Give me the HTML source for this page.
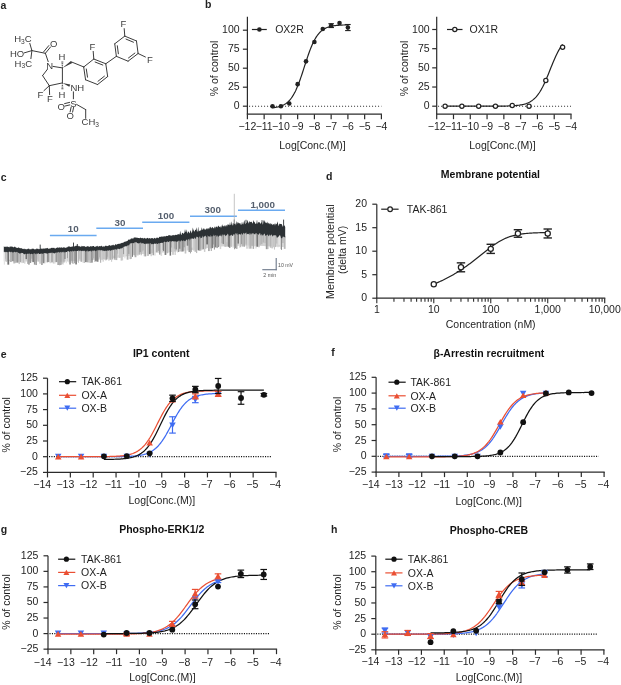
<!DOCTYPE html>
<html><head><meta charset="utf-8"><style>html,body{margin:0;padding:0;background:#fff;}svg{display:block;}</style></head><body>
<svg width="621" height="685" viewBox="0 0 621 685" font-family="&apos;Liberation Sans&apos;, Arial, Helvetica, sans-serif">
<rect width="621" height="685" fill="#fff"/>
<text x="0.6" y="8.6" font-size="10.5" text-anchor="start" font-weight="bold" fill="#222" >a</text>
<text x="205" y="8.4" font-size="10.5" text-anchor="start" font-weight="bold" fill="#222" >b</text>
<text x="0.8" y="180.6" font-size="10.5" text-anchor="start" font-weight="bold" fill="#222" >c</text>
<text x="326" y="180.4" font-size="10.5" text-anchor="start" font-weight="bold" fill="#222" >d</text>
<text x="0.8" y="357.8" font-size="10.5" text-anchor="start" font-weight="bold" fill="#222" >e</text>
<text x="331.2" y="355.6" font-size="10.5" text-anchor="start" font-weight="bold" fill="#222" >f</text>
<text x="0.8" y="532.6" font-size="10.5" text-anchor="start" font-weight="bold" fill="#222" >g</text>
<text x="331" y="533" font-size="10.5" text-anchor="start" font-weight="bold" fill="#222" >h</text>
<line x1="249" y1="106.2" x2="381.4" y2="106.2" stroke="#3a3a3a" stroke-width="1.1" stroke-dasharray="1.1 1.9"/>
<line x1="247.4" y1="16.82" x2="247.4" y2="114.18" stroke="#2b2b2b" stroke-width="1.2" />
<line x1="242.9" y1="106.2" x2="247.4" y2="106.2" stroke="#2b2b2b" stroke-width="1.2" />
<text x="239.6" y="109.2" font-size="10.5" text-anchor="end" font-weight="normal" fill="#1e1e1e" >0</text>
<line x1="242.9" y1="87.2" x2="247.4" y2="87.2" stroke="#2b2b2b" stroke-width="1.2" />
<text x="239.6" y="90.2" font-size="10.5" text-anchor="end" font-weight="normal" fill="#1e1e1e" >25</text>
<line x1="242.9" y1="68.2" x2="247.4" y2="68.2" stroke="#2b2b2b" stroke-width="1.2" />
<text x="239.6" y="71.2" font-size="10.5" text-anchor="end" font-weight="normal" fill="#1e1e1e" >50</text>
<line x1="242.9" y1="49.2" x2="247.4" y2="49.2" stroke="#2b2b2b" stroke-width="1.2" />
<text x="239.6" y="52.2" font-size="10.5" text-anchor="end" font-weight="normal" fill="#1e1e1e" >75</text>
<line x1="242.9" y1="30.2" x2="247.4" y2="30.2" stroke="#2b2b2b" stroke-width="1.2" />
<text x="239.6" y="33.2" font-size="10.5" text-anchor="end" font-weight="normal" fill="#1e1e1e" >100</text>
<line x1="246.8" y1="114.18" x2="382" y2="114.18" stroke="#2b2b2b" stroke-width="1.2" />
<line x1="247.4" y1="114.18" x2="247.4" y2="119.18" stroke="#2b2b2b" stroke-width="1.2" />
<text x="247.4" y="130.3" font-size="10.5" text-anchor="middle" font-weight="normal" fill="#1e1e1e" >−12</text>
<line x1="264.15" y1="114.18" x2="264.15" y2="119.18" stroke="#2b2b2b" stroke-width="1.2" />
<text x="264.15" y="130.3" font-size="10.5" text-anchor="middle" font-weight="normal" fill="#1e1e1e" >−11</text>
<line x1="280.9" y1="114.18" x2="280.9" y2="119.18" stroke="#2b2b2b" stroke-width="1.2" />
<text x="280.9" y="130.3" font-size="10.5" text-anchor="middle" font-weight="normal" fill="#1e1e1e" >−10</text>
<line x1="297.65" y1="114.18" x2="297.65" y2="119.18" stroke="#2b2b2b" stroke-width="1.2" />
<text x="297.65" y="130.3" font-size="10.5" text-anchor="middle" font-weight="normal" fill="#1e1e1e" >−9</text>
<line x1="314.4" y1="114.18" x2="314.4" y2="119.18" stroke="#2b2b2b" stroke-width="1.2" />
<text x="314.4" y="130.3" font-size="10.5" text-anchor="middle" font-weight="normal" fill="#1e1e1e" >−8</text>
<line x1="331.15" y1="114.18" x2="331.15" y2="119.18" stroke="#2b2b2b" stroke-width="1.2" />
<text x="331.15" y="130.3" font-size="10.5" text-anchor="middle" font-weight="normal" fill="#1e1e1e" >−7</text>
<line x1="347.9" y1="114.18" x2="347.9" y2="119.18" stroke="#2b2b2b" stroke-width="1.2" />
<text x="347.9" y="130.3" font-size="10.5" text-anchor="middle" font-weight="normal" fill="#1e1e1e" >−6</text>
<line x1="364.65" y1="114.18" x2="364.65" y2="119.18" stroke="#2b2b2b" stroke-width="1.2" />
<text x="364.65" y="130.3" font-size="10.5" text-anchor="middle" font-weight="normal" fill="#1e1e1e" >−5</text>
<line x1="381.4" y1="114.18" x2="381.4" y2="119.18" stroke="#2b2b2b" stroke-width="1.2" />
<text x="381.4" y="130.3" font-size="10.5" text-anchor="middle" font-weight="normal" fill="#1e1e1e" >−4</text>
<text x="0" y="0" font-size="10.5" text-anchor="middle" fill="#1e1e1e" transform="translate(218.2,68.5) rotate(-90)">% of control</text>
<text x="312.5" y="149" font-size="10.5" text-anchor="middle" font-weight="normal" fill="#1e1e1e" >Log[Conc.(M)]</text>
<polyline points="272.52,107.8 273.15,107.73 273.78,107.65 274.41,107.57 275.04,107.48 275.67,107.37 276.29,107.26 276.92,107.14 277.55,107.01 278.18,106.87 278.81,106.71 279.43,106.53 280.06,106.34 280.69,106.14 281.32,105.91 281.95,105.66 282.57,105.39 283.2,105.1 283.83,104.78 284.46,104.43 285.09,104.05 285.72,103.64 286.34,103.19 286.97,102.7 287.6,102.18 288.23,101.61 288.86,100.99 289.48,100.32 290.11,99.61 290.74,98.83 291.37,98 292,97.11 292.62,96.16 293.25,95.14 293.88,94.06 294.51,92.91 295.14,91.69 295.77,90.39 296.39,89.03 297.02,87.6 297.65,86.1 298.28,84.53 298.91,82.9 299.53,81.21 300.16,79.46 300.79,77.67 301.42,75.82 302.05,73.94 302.68,72.03 303.3,70.1 303.93,68.15 304.56,66.19 305.19,64.24 305.82,62.3 306.44,60.37 307.07,58.47 307.7,56.61 308.33,54.79 308.96,53.01 309.58,51.29 310.21,49.62 310.84,48.02 311.47,46.48 312.1,45.01 312.73,43.61 313.35,42.28 313.98,41.02 314.61,39.83 315.24,38.71 315.87,37.66 316.49,36.67 317.12,35.75 317.75,34.89 318.38,34.08 319.01,33.34 319.63,32.64 320.26,32 320.89,31.4 321.52,30.85 322.15,30.35 322.77,29.88 323.4,29.45 324.03,29.05 324.66,28.68 325.29,28.35 325.92,28.04 326.54,27.76 327.17,27.5 327.8,27.26 328.43,27.04 329.06,26.84 329.68,26.66 330.31,26.49 330.94,26.34 331.57,26.2 332.2,26.07 332.82,25.96 333.45,25.85 334.08,25.75 334.71,25.67 335.34,25.59 335.97,25.51 336.59,25.44 337.22,25.38 337.85,25.33 338.48,25.28 339.11,25.23 339.73,25.19 340.36,25.15 340.99,25.11 341.62,25.08 342.25,25.05 342.88,25.02 343.5,25 344.13,24.98 344.76,24.96 345.39,24.94 346.02,24.92 346.64,24.91 347.27,24.89 347.9,24.88" fill="none" stroke="#222" stroke-width="1.2" stroke-linejoin="round"/>
<line x1="331.15" y1="23.74" x2="331.15" y2="27.54" stroke="#222" stroke-width="1.1" />
<line x1="328.35" y1="23.74" x2="333.95" y2="23.74" stroke="#222" stroke-width="1.1" />
<line x1="328.35" y1="27.54" x2="333.95" y2="27.54" stroke="#222" stroke-width="1.1" />
<line x1="347.9" y1="24.5" x2="347.9" y2="30.58" stroke="#222" stroke-width="1.1" />
<line x1="345.1" y1="24.5" x2="350.7" y2="24.5" stroke="#222" stroke-width="1.1" />
<line x1="345.1" y1="30.58" x2="350.7" y2="30.58" stroke="#222" stroke-width="1.1" />
<circle cx="272.52" cy="106.2" r="2.3" fill="#222"/>
<circle cx="280.9" cy="106.2" r="2.3" fill="#222"/>
<circle cx="289.27" cy="103.54" r="2.3" fill="#222"/>
<circle cx="297.65" cy="84.16" r="2.3" fill="#222"/>
<circle cx="306.02" cy="61.36" r="2.3" fill="#222"/>
<circle cx="314.4" cy="41.98" r="2.3" fill="#222"/>
<circle cx="322.77" cy="28.98" r="2.3" fill="#222"/>
<circle cx="331.15" cy="25.64" r="2.3" fill="#222"/>
<circle cx="339.52" cy="22.98" r="2.3" fill="#222"/>
<circle cx="347.9" cy="27.54" r="2.3" fill="#222"/>
<line x1="251.9" y1="29.5" x2="266.8" y2="29.5" stroke="#222" stroke-width="1.2" />
<circle cx="259.4" cy="29.5" r="2.3" fill="#222"/>
<text x="275.2" y="33.1" font-size="10.5" text-anchor="start" font-weight="normal" fill="#1e1e1e" >OX2R</text>
<line x1="438" y1="106.2" x2="571" y2="106.2" stroke="#3a3a3a" stroke-width="1.1" stroke-dasharray="1.1 1.9"/>
<line x1="436.7" y1="16.77" x2="436.7" y2="114.18" stroke="#2b2b2b" stroke-width="1.2" />
<line x1="432.2" y1="106.2" x2="436.7" y2="106.2" stroke="#2b2b2b" stroke-width="1.2" />
<text x="429.6" y="109.2" font-size="10.5" text-anchor="end" font-weight="normal" fill="#1e1e1e" >0</text>
<line x1="432.2" y1="87.03" x2="436.7" y2="87.03" stroke="#2b2b2b" stroke-width="1.2" />
<text x="429.6" y="90.03" font-size="10.5" text-anchor="end" font-weight="normal" fill="#1e1e1e" >25</text>
<line x1="432.2" y1="67.85" x2="436.7" y2="67.85" stroke="#2b2b2b" stroke-width="1.2" />
<text x="429.6" y="70.85" font-size="10.5" text-anchor="end" font-weight="normal" fill="#1e1e1e" >50</text>
<line x1="432.2" y1="48.68" x2="436.7" y2="48.68" stroke="#2b2b2b" stroke-width="1.2" />
<text x="429.6" y="51.68" font-size="10.5" text-anchor="end" font-weight="normal" fill="#1e1e1e" >75</text>
<line x1="432.2" y1="29.5" x2="436.7" y2="29.5" stroke="#2b2b2b" stroke-width="1.2" />
<text x="429.6" y="32.5" font-size="10.5" text-anchor="end" font-weight="normal" fill="#1e1e1e" >100</text>
<line x1="436.1" y1="114.18" x2="571.6" y2="114.18" stroke="#2b2b2b" stroke-width="1.2" />
<line x1="436.7" y1="114.18" x2="436.7" y2="119.18" stroke="#2b2b2b" stroke-width="1.2" />
<text x="436.7" y="130.3" font-size="10.5" text-anchor="middle" font-weight="normal" fill="#1e1e1e" >−12</text>
<line x1="453.49" y1="114.18" x2="453.49" y2="119.18" stroke="#2b2b2b" stroke-width="1.2" />
<text x="453.49" y="130.3" font-size="10.5" text-anchor="middle" font-weight="normal" fill="#1e1e1e" >−11</text>
<line x1="470.27" y1="114.18" x2="470.27" y2="119.18" stroke="#2b2b2b" stroke-width="1.2" />
<text x="470.27" y="130.3" font-size="10.5" text-anchor="middle" font-weight="normal" fill="#1e1e1e" >−10</text>
<line x1="487.06" y1="114.18" x2="487.06" y2="119.18" stroke="#2b2b2b" stroke-width="1.2" />
<text x="487.06" y="130.3" font-size="10.5" text-anchor="middle" font-weight="normal" fill="#1e1e1e" >−9</text>
<line x1="503.85" y1="114.18" x2="503.85" y2="119.18" stroke="#2b2b2b" stroke-width="1.2" />
<text x="503.85" y="130.3" font-size="10.5" text-anchor="middle" font-weight="normal" fill="#1e1e1e" >−8</text>
<line x1="520.64" y1="114.18" x2="520.64" y2="119.18" stroke="#2b2b2b" stroke-width="1.2" />
<text x="520.64" y="130.3" font-size="10.5" text-anchor="middle" font-weight="normal" fill="#1e1e1e" >−7</text>
<line x1="537.42" y1="114.18" x2="537.42" y2="119.18" stroke="#2b2b2b" stroke-width="1.2" />
<text x="537.42" y="130.3" font-size="10.5" text-anchor="middle" font-weight="normal" fill="#1e1e1e" >−6</text>
<line x1="554.21" y1="114.18" x2="554.21" y2="119.18" stroke="#2b2b2b" stroke-width="1.2" />
<text x="554.21" y="130.3" font-size="10.5" text-anchor="middle" font-weight="normal" fill="#1e1e1e" >−5</text>
<line x1="571" y1="114.18" x2="571" y2="119.18" stroke="#2b2b2b" stroke-width="1.2" />
<text x="571" y="130.3" font-size="10.5" text-anchor="middle" font-weight="normal" fill="#1e1e1e" >−4</text>
<text x="0" y="0" font-size="10.5" text-anchor="middle" fill="#1e1e1e" transform="translate(408.2,68.5) rotate(-90)">% of control</text>
<text x="502.5" y="149.3" font-size="10.5" text-anchor="middle" font-weight="normal" fill="#1e1e1e" >Log[Conc.(M)]</text>
<polyline points="445.09,106.2 446.07,106.2 447.05,106.2 448.03,106.2 449.01,106.2 449.99,106.2 450.97,106.2 451.95,106.2 452.93,106.2 453.91,106.2 454.89,106.2 455.87,106.2 456.84,106.2 457.82,106.2 458.8,106.2 459.78,106.2 460.76,106.2 461.74,106.2 462.72,106.2 463.7,106.2 464.68,106.2 465.66,106.2 466.64,106.2 467.62,106.2 468.6,106.2 469.58,106.2 470.55,106.2 471.53,106.2 472.51,106.2 473.49,106.2 474.47,106.2 475.45,106.2 476.43,106.2 477.41,106.2 478.39,106.2 479.37,106.2 480.35,106.19 481.33,106.19 482.31,106.19 483.29,106.19 484.26,106.19 485.24,106.19 486.22,106.19 487.2,106.19 488.18,106.19 489.16,106.18 490.14,106.18 491.12,106.18 492.1,106.17 493.08,106.17 494.06,106.17 495.04,106.16 496.02,106.16 497,106.15 497.97,106.14 498.95,106.13 499.93,106.13 500.91,106.11 501.89,106.1 502.87,106.09 503.85,106.07 504.83,106.05 505.81,106.03 506.79,106.01 507.77,105.98 508.75,105.95 509.73,105.91 510.7,105.87 511.68,105.83 512.66,105.77 513.64,105.71 514.62,105.64 515.6,105.56 516.58,105.47 517.56,105.37 518.54,105.25 519.52,105.12 520.5,104.96 521.48,104.79 522.46,104.59 523.44,104.37 524.41,104.11 525.39,103.82 526.37,103.49 527.35,103.12 528.33,102.7 529.31,102.22 530.29,101.68 531.27,101.08 532.25,100.4 533.23,99.64 534.21,98.8 535.19,97.86 536.17,96.81 537.15,95.66 538.12,94.38 539.1,92.99 540.08,91.48 541.06,89.84 542.04,88.07 543.02,86.18 544,84.17 544.98,82.05 545.96,79.83 546.94,77.53 547.92,75.16 548.9,72.74 549.88,70.29 550.86,67.84 551.83,65.41 552.81,63.01 553.79,60.68 554.77,58.41 555.75,56.24 556.73,54.18 557.71,52.23 558.69,50.4 559.67,48.69 560.65,47.12 561.63,45.67 562.61,44.34" fill="none" stroke="#222" stroke-width="1.2" stroke-linejoin="round"/>
<circle cx="445.09" cy="106.2" r="2.1" fill="#fff" stroke="#222" stroke-width="1.25"/>
<circle cx="461.88" cy="106.2" r="2.1" fill="#fff" stroke="#222" stroke-width="1.25"/>
<circle cx="478.67" cy="106.2" r="2.1" fill="#fff" stroke="#222" stroke-width="1.25"/>
<circle cx="495.46" cy="106.2" r="2.1" fill="#fff" stroke="#222" stroke-width="1.25"/>
<circle cx="512.24" cy="105.43" r="2.1" fill="#fff" stroke="#222" stroke-width="1.25"/>
<circle cx="529.03" cy="106.2" r="2.1" fill="#fff" stroke="#222" stroke-width="1.25"/>
<circle cx="545.82" cy="80.43" r="2.1" fill="#fff" stroke="#222" stroke-width="1.25"/>
<circle cx="562.61" cy="47.29" r="2.1" fill="#fff" stroke="#222" stroke-width="1.25"/>
<line x1="447" y1="29.5" x2="462.5" y2="29.5" stroke="#222" stroke-width="1.2" />
<circle cx="454.8" cy="29.5" r="2.1" fill="#fff" stroke="#222" stroke-width="1.25"/>
<text x="469.5" y="33.1" font-size="10.5" text-anchor="start" font-weight="normal" fill="#1e1e1e" >OX1R</text>
<line x1="376.8" y1="204.2" x2="376.8" y2="298.2" stroke="#2b2b2b" stroke-width="1.2" />
<line x1="372.3" y1="298.2" x2="376.8" y2="298.2" stroke="#2b2b2b" stroke-width="1.2" />
<text x="367" y="301.2" font-size="10.5" text-anchor="end" font-weight="normal" fill="#1e1e1e" >0</text>
<line x1="372.3" y1="274.7" x2="376.8" y2="274.7" stroke="#2b2b2b" stroke-width="1.2" />
<text x="367" y="277.7" font-size="10.5" text-anchor="end" font-weight="normal" fill="#1e1e1e" >5</text>
<line x1="372.3" y1="251.2" x2="376.8" y2="251.2" stroke="#2b2b2b" stroke-width="1.2" />
<text x="367" y="254.2" font-size="10.5" text-anchor="end" font-weight="normal" fill="#1e1e1e" >10</text>
<line x1="372.3" y1="227.7" x2="376.8" y2="227.7" stroke="#2b2b2b" stroke-width="1.2" />
<text x="367" y="230.7" font-size="10.5" text-anchor="end" font-weight="normal" fill="#1e1e1e" >15</text>
<line x1="372.3" y1="204.2" x2="376.8" y2="204.2" stroke="#2b2b2b" stroke-width="1.2" />
<text x="367" y="207.2" font-size="10.5" text-anchor="end" font-weight="normal" fill="#1e1e1e" >20</text>
<line x1="376.2" y1="298.2" x2="605.3" y2="298.2" stroke="#2b2b2b" stroke-width="1.2" />
<line x1="376.8" y1="298.2" x2="376.8" y2="303.2" stroke="#2b2b2b" stroke-width="1.1" />
<line x1="393.95" y1="298.2" x2="393.95" y2="301.8" stroke="#2b2b2b" stroke-width="1.1" />
<line x1="403.98" y1="298.2" x2="403.98" y2="301.8" stroke="#2b2b2b" stroke-width="1.1" />
<line x1="411.1" y1="298.2" x2="411.1" y2="301.8" stroke="#2b2b2b" stroke-width="1.1" />
<line x1="416.62" y1="298.2" x2="416.62" y2="301.8" stroke="#2b2b2b" stroke-width="1.1" />
<line x1="421.14" y1="298.2" x2="421.14" y2="301.8" stroke="#2b2b2b" stroke-width="1.1" />
<line x1="424.95" y1="298.2" x2="424.95" y2="301.8" stroke="#2b2b2b" stroke-width="1.1" />
<line x1="428.25" y1="298.2" x2="428.25" y2="301.8" stroke="#2b2b2b" stroke-width="1.1" />
<line x1="431.17" y1="298.2" x2="431.17" y2="301.8" stroke="#2b2b2b" stroke-width="1.1" />
<line x1="433.78" y1="298.2" x2="433.78" y2="303.2" stroke="#2b2b2b" stroke-width="1.1" />
<line x1="450.93" y1="298.2" x2="450.93" y2="301.8" stroke="#2b2b2b" stroke-width="1.1" />
<line x1="460.96" y1="298.2" x2="460.96" y2="301.8" stroke="#2b2b2b" stroke-width="1.1" />
<line x1="468.08" y1="298.2" x2="468.08" y2="301.8" stroke="#2b2b2b" stroke-width="1.1" />
<line x1="473.6" y1="298.2" x2="473.6" y2="301.8" stroke="#2b2b2b" stroke-width="1.1" />
<line x1="478.11" y1="298.2" x2="478.11" y2="301.8" stroke="#2b2b2b" stroke-width="1.1" />
<line x1="481.92" y1="298.2" x2="481.92" y2="301.8" stroke="#2b2b2b" stroke-width="1.1" />
<line x1="485.23" y1="298.2" x2="485.23" y2="301.8" stroke="#2b2b2b" stroke-width="1.1" />
<line x1="488.14" y1="298.2" x2="488.14" y2="301.8" stroke="#2b2b2b" stroke-width="1.1" />
<line x1="490.75" y1="298.2" x2="490.75" y2="303.2" stroke="#2b2b2b" stroke-width="1.1" />
<line x1="507.9" y1="298.2" x2="507.9" y2="301.8" stroke="#2b2b2b" stroke-width="1.1" />
<line x1="517.93" y1="298.2" x2="517.93" y2="301.8" stroke="#2b2b2b" stroke-width="1.1" />
<line x1="525.05" y1="298.2" x2="525.05" y2="301.8" stroke="#2b2b2b" stroke-width="1.1" />
<line x1="530.57" y1="298.2" x2="530.57" y2="301.8" stroke="#2b2b2b" stroke-width="1.1" />
<line x1="535.09" y1="298.2" x2="535.09" y2="301.8" stroke="#2b2b2b" stroke-width="1.1" />
<line x1="538.9" y1="298.2" x2="538.9" y2="301.8" stroke="#2b2b2b" stroke-width="1.1" />
<line x1="542.2" y1="298.2" x2="542.2" y2="301.8" stroke="#2b2b2b" stroke-width="1.1" />
<line x1="545.12" y1="298.2" x2="545.12" y2="301.8" stroke="#2b2b2b" stroke-width="1.1" />
<line x1="547.73" y1="298.2" x2="547.73" y2="303.2" stroke="#2b2b2b" stroke-width="1.1" />
<line x1="564.88" y1="298.2" x2="564.88" y2="301.8" stroke="#2b2b2b" stroke-width="1.1" />
<line x1="574.91" y1="298.2" x2="574.91" y2="301.8" stroke="#2b2b2b" stroke-width="1.1" />
<line x1="582.03" y1="298.2" x2="582.03" y2="301.8" stroke="#2b2b2b" stroke-width="1.1" />
<line x1="587.55" y1="298.2" x2="587.55" y2="301.8" stroke="#2b2b2b" stroke-width="1.1" />
<line x1="592.06" y1="298.2" x2="592.06" y2="301.8" stroke="#2b2b2b" stroke-width="1.1" />
<line x1="595.87" y1="298.2" x2="595.87" y2="301.8" stroke="#2b2b2b" stroke-width="1.1" />
<line x1="599.18" y1="298.2" x2="599.18" y2="301.8" stroke="#2b2b2b" stroke-width="1.1" />
<line x1="602.09" y1="298.2" x2="602.09" y2="301.8" stroke="#2b2b2b" stroke-width="1.1" />
<line x1="604.7" y1="298.2" x2="604.7" y2="303.2" stroke="#2b2b2b" stroke-width="1.2" />
<text x="376.8" y="313.3" font-size="10.5" text-anchor="middle" font-weight="normal" fill="#1e1e1e" >1</text>
<text x="433.78" y="313.3" font-size="10.5" text-anchor="middle" font-weight="normal" fill="#1e1e1e" >10</text>
<text x="490.75" y="313.3" font-size="10.5" text-anchor="middle" font-weight="normal" fill="#1e1e1e" >100</text>
<text x="547.73" y="313.3" font-size="10.5" text-anchor="middle" font-weight="normal" fill="#1e1e1e" >1,000</text>
<text x="604.7" y="313.3" font-size="10.5" text-anchor="middle" font-weight="normal" fill="#1e1e1e" >10,000</text>
<text x="0" y="0" font-size="10.7" text-anchor="middle" fill="#1e1e1e" transform="translate(334,251.7) rotate(-90)">Membrane potential</text>
<text x="0" y="0" font-size="10.5" text-anchor="middle" fill="#1e1e1e" transform="translate(346.4,249.9) rotate(-90)">(delta mV)</text>
<text x="490.4" y="177.6" font-size="10.5" text-anchor="middle" font-weight="bold" fill="#111" >Membrane potential</text>
<text x="490.7" y="328.2" font-size="10.5" text-anchor="middle" font-weight="normal" fill="#1e1e1e" >Concentration (nM)</text>
<polyline points="433.78,284.19 434.72,283.8 435.67,283.4 436.62,283 437.57,282.59 438.52,282.17 439.47,281.74 440.42,281.31 441.37,280.87 442.32,280.42 443.27,279.97 444.22,279.5 445.17,279.03 446.12,278.55 447.07,278.06 448.02,277.56 448.97,277.06 449.92,276.55 450.87,276.02 451.82,275.49 452.77,274.95 453.72,274.4 454.67,273.84 455.62,273.27 456.56,272.7 457.51,272.11 458.46,271.52 459.41,270.91 460.36,270.3 461.31,269.67 462.26,269.04 463.21,268.4 464.16,267.75 465.11,267.09 466.06,266.42 467.01,265.74 467.96,265.05 468.91,264.36 469.86,263.65 470.81,262.94 471.76,262.22 472.71,261.5 473.66,260.77 474.61,260.03 475.56,259.28 476.51,258.53 477.46,257.78 478.41,257.02 479.36,256.26 480.3,255.49 481.25,254.73 482.2,253.96 483.15,253.2 484.1,252.44 485.05,251.68 486,250.92 486.95,250.17 487.9,249.43 488.85,248.7 489.8,247.97 490.75,247.25 491.7,246.55 492.65,245.86 493.6,245.19 494.55,244.53 495.5,243.88 496.45,243.26 497.4,242.65 498.35,242.06 499.3,241.5 500.25,240.95 501.2,240.43 502.15,239.92 503.09,239.44 504.04,238.99 504.99,238.55 505.94,238.13 506.89,237.74 507.84,237.37 508.79,237.02 509.74,236.69 510.69,236.38 511.64,236.09 512.59,235.81 513.54,235.56 514.49,235.32 515.44,235.1 516.39,234.89 517.34,234.7 518.29,234.52 519.24,234.35 520.19,234.2 521.14,234.05 522.09,233.92 523.04,233.8 523.99,233.69 524.94,233.58 525.88,233.49 526.83,233.4 527.78,233.32 528.73,233.24 529.68,233.17 530.63,233.11 531.58,233.05 532.53,233 533.48,232.95 534.43,232.91 535.38,232.86 536.33,232.83 537.28,232.79 538.23,232.76 539.18,232.73 540.13,232.7 541.08,232.68 542.03,232.66 542.98,232.64 543.93,232.62 544.88,232.6 545.83,232.58 546.78,232.57 547.73,232.56" fill="none" stroke="#222" stroke-width="1.2" stroke-linejoin="round"/>
<line x1="460.96" y1="262.86" x2="460.96" y2="271.79" stroke="#222" stroke-width="1.4" />
<line x1="456.76" y1="262.86" x2="465.16" y2="262.86" stroke="#222" stroke-width="1.4" />
<line x1="456.76" y1="271.79" x2="465.16" y2="271.79" stroke="#222" stroke-width="1.4" />
<line x1="490.75" y1="244.29" x2="490.75" y2="253.41" stroke="#222" stroke-width="1.4" />
<line x1="486.55" y1="244.29" x2="494.95" y2="244.29" stroke="#222" stroke-width="1.4" />
<line x1="486.55" y1="253.41" x2="494.95" y2="253.41" stroke="#222" stroke-width="1.4" />
<line x1="517.93" y1="229.72" x2="517.93" y2="237.24" stroke="#222" stroke-width="1.4" />
<line x1="513.73" y1="229.72" x2="522.13" y2="229.72" stroke="#222" stroke-width="1.4" />
<line x1="513.73" y1="237.24" x2="522.13" y2="237.24" stroke="#222" stroke-width="1.4" />
<line x1="547.73" y1="229.02" x2="547.73" y2="237.95" stroke="#222" stroke-width="1.4" />
<line x1="543.52" y1="229.02" x2="551.93" y2="229.02" stroke="#222" stroke-width="1.4" />
<line x1="543.52" y1="237.95" x2="551.93" y2="237.95" stroke="#222" stroke-width="1.4" />
<circle cx="433.78" cy="284.19" r="2.6" fill="#fff" stroke="#222" stroke-width="1.25"/>
<circle cx="460.96" cy="267.32" r="2.6" fill="#fff" stroke="#222" stroke-width="1.25"/>
<circle cx="490.75" cy="248.85" r="2.6" fill="#fff" stroke="#222" stroke-width="1.25"/>
<circle cx="517.93" cy="233.48" r="2.6" fill="#fff" stroke="#222" stroke-width="1.25"/>
<circle cx="547.73" cy="233.48" r="2.6" fill="#fff" stroke="#222" stroke-width="1.25"/>
<line x1="381.2" y1="209.2" x2="398.6" y2="209.2" stroke="#222" stroke-width="1.2" />
<circle cx="390.1" cy="209.2" r="2.3" fill="#fff" stroke="#222" stroke-width="1.25"/>
<text x="406.8" y="212.8" font-size="10.5" text-anchor="start" font-weight="normal" fill="#1e1e1e" >TAK-861</text>
<line x1="49" y1="456.7" x2="271" y2="456.7" stroke="#111" stroke-width="1.25" stroke-dasharray="1.1 1.3"/>
<line x1="47.5" y1="378.2" x2="47.5" y2="472.4" stroke="#2b2b2b" stroke-width="1.2" />
<line x1="43" y1="472.4" x2="47.5" y2="472.4" stroke="#2b2b2b" stroke-width="1.2" />
<text x="37.9" y="475.4" font-size="10.5" text-anchor="end" font-weight="normal" fill="#1e1e1e" >−25</text>
<line x1="43" y1="456.7" x2="47.5" y2="456.7" stroke="#2b2b2b" stroke-width="1.2" />
<text x="37.9" y="459.7" font-size="10.5" text-anchor="end" font-weight="normal" fill="#1e1e1e" >0</text>
<line x1="43" y1="441" x2="47.5" y2="441" stroke="#2b2b2b" stroke-width="1.2" />
<text x="37.9" y="444" font-size="10.5" text-anchor="end" font-weight="normal" fill="#1e1e1e" >25</text>
<line x1="43" y1="425.3" x2="47.5" y2="425.3" stroke="#2b2b2b" stroke-width="1.2" />
<text x="37.9" y="428.3" font-size="10.5" text-anchor="end" font-weight="normal" fill="#1e1e1e" >50</text>
<line x1="43" y1="409.6" x2="47.5" y2="409.6" stroke="#2b2b2b" stroke-width="1.2" />
<text x="37.9" y="412.6" font-size="10.5" text-anchor="end" font-weight="normal" fill="#1e1e1e" >75</text>
<line x1="43" y1="393.9" x2="47.5" y2="393.9" stroke="#2b2b2b" stroke-width="1.2" />
<text x="37.9" y="396.9" font-size="10.5" text-anchor="end" font-weight="normal" fill="#1e1e1e" >100</text>
<line x1="43" y1="378.2" x2="47.5" y2="378.2" stroke="#2b2b2b" stroke-width="1.2" />
<text x="37.9" y="381.2" font-size="10.5" text-anchor="end" font-weight="normal" fill="#1e1e1e" >125</text>
<line x1="46.9" y1="472.4" x2="276.6" y2="472.4" stroke="#2b2b2b" stroke-width="1.2" />
<line x1="47.5" y1="472.4" x2="47.5" y2="477.4" stroke="#2b2b2b" stroke-width="1.2" />
<text x="42.2" y="488.2" font-size="10.5" text-anchor="middle" font-weight="normal" fill="#1e1e1e" >−14</text>
<line x1="70.35" y1="472.4" x2="70.35" y2="477.4" stroke="#2b2b2b" stroke-width="1.2" />
<text x="65.35" y="488.2" font-size="10.5" text-anchor="middle" font-weight="normal" fill="#1e1e1e" >−13</text>
<line x1="93.2" y1="472.4" x2="93.2" y2="477.4" stroke="#2b2b2b" stroke-width="1.2" />
<text x="88.4" y="488.2" font-size="10.5" text-anchor="middle" font-weight="normal" fill="#1e1e1e" >−12</text>
<line x1="116.05" y1="472.4" x2="116.05" y2="477.4" stroke="#2b2b2b" stroke-width="1.2" />
<text x="113.25" y="488.2" font-size="10.5" text-anchor="middle" font-weight="normal" fill="#1e1e1e" >−11</text>
<line x1="138.9" y1="472.4" x2="138.9" y2="477.4" stroke="#2b2b2b" stroke-width="1.2" />
<text x="137.4" y="488.2" font-size="10.5" text-anchor="middle" font-weight="normal" fill="#1e1e1e" >−10</text>
<line x1="161.75" y1="472.4" x2="161.75" y2="477.4" stroke="#2b2b2b" stroke-width="1.2" />
<text x="160.95" y="488.2" font-size="10.5" text-anchor="middle" font-weight="normal" fill="#1e1e1e" >−9</text>
<line x1="184.6" y1="472.4" x2="184.6" y2="477.4" stroke="#2b2b2b" stroke-width="1.2" />
<text x="183.8" y="488.2" font-size="10.5" text-anchor="middle" font-weight="normal" fill="#1e1e1e" >−8</text>
<line x1="207.45" y1="472.4" x2="207.45" y2="477.4" stroke="#2b2b2b" stroke-width="1.2" />
<text x="206.65" y="488.2" font-size="10.5" text-anchor="middle" font-weight="normal" fill="#1e1e1e" >−7</text>
<line x1="230.3" y1="472.4" x2="230.3" y2="477.4" stroke="#2b2b2b" stroke-width="1.2" />
<text x="229.5" y="488.2" font-size="10.5" text-anchor="middle" font-weight="normal" fill="#1e1e1e" >−6</text>
<line x1="253.15" y1="472.4" x2="253.15" y2="477.4" stroke="#2b2b2b" stroke-width="1.2" />
<text x="252.35" y="488.2" font-size="10.5" text-anchor="middle" font-weight="normal" fill="#1e1e1e" >−5</text>
<line x1="276" y1="472.4" x2="276" y2="477.4" stroke="#2b2b2b" stroke-width="1.2" />
<text x="275.2" y="488.2" font-size="10.5" text-anchor="middle" font-weight="normal" fill="#1e1e1e" >−4</text>
<text x="0" y="0" font-size="10.5" text-anchor="middle" fill="#1e1e1e" transform="translate(9.7,424.8) rotate(-90)">% of control</text>
<text x="161.2" y="357.4" font-size="10.5" text-anchor="middle" font-weight="bold" fill="#111" >IP1 content</text>
<text x="161.8" y="504.4" font-size="10.5" text-anchor="middle" font-weight="normal" fill="#1e1e1e" >Log[Conc.(M)]</text>
<polyline points="58.24,456.7 59.57,456.7 60.91,456.7 62.24,456.7 63.57,456.7 64.9,456.7 66.24,456.7 67.57,456.7 68.9,456.7 70.24,456.7 71.57,456.7 72.9,456.7 74.23,456.7 75.57,456.7 76.9,456.7 78.23,456.7 79.57,456.7 80.9,456.7 82.23,456.7 83.56,456.7 84.9,456.7 86.23,456.7 87.56,456.7 88.9,456.7 90.23,456.7 91.56,456.7 92.9,456.7 94.23,456.69 95.56,456.69 96.89,456.69 98.23,456.69 99.56,456.69 100.89,456.69 102.23,456.69 103.56,456.68 104.89,456.68 106.22,456.68 107.56,456.67 108.89,456.67 110.22,456.66 111.56,456.65 112.89,456.65 114.22,456.64 115.55,456.63 116.89,456.61 118.22,456.6 119.55,456.58 120.89,456.56 122.22,456.53 123.55,456.5 124.89,456.47 126.22,456.43 127.55,456.38 128.88,456.33 130.22,456.26 131.55,456.19 132.88,456.1 134.22,456 135.55,455.87 136.88,455.73 138.21,455.57 139.55,455.37 140.88,455.15 142.21,454.88 143.55,454.57 144.88,454.22 146.21,453.8 147.54,453.32 148.88,452.77 150.21,452.13 151.54,451.4 152.88,450.56 154.21,449.61 155.54,448.53 156.88,447.31 158.21,445.95 159.54,444.43 160.87,442.75 162.21,440.92 163.54,438.94 164.87,436.8 166.21,434.54 167.54,432.16 168.87,429.7 170.2,427.17 171.54,424.62 172.87,422.07 174.2,419.56 175.54,417.12 176.87,414.77 178.2,412.55 179.53,410.45 180.87,408.51 182.2,406.72 183.53,405.09 184.87,403.62 186.2,402.3 187.53,401.12 188.87,400.08 190.2,399.16 191.53,398.35 192.86,397.65 194.2,397.04 195.53,396.5 196.86,396.04 198.2,395.65 199.53,395.3 200.86,395.01 202.19,394.76 203.53,394.54 204.86,394.36 206.19,394.2 207.53,394.06 208.86,393.94 210.19,393.85 211.52,393.76 212.86,393.69 214.19,393.63 215.52,393.57 216.86,393.53 218.19,393.49" fill="none" stroke="#3f6cf2" stroke-width="1.25" stroke-linejoin="round"/>
<polyline points="58.24,456.7 59.57,456.7 60.91,456.7 62.24,456.7 63.57,456.7 64.9,456.7 66.24,456.7 67.57,456.7 68.9,456.7 70.24,456.7 71.57,456.7 72.9,456.7 74.23,456.7 75.57,456.7 76.9,456.7 78.23,456.7 79.57,456.69 80.9,456.69 82.23,456.69 83.56,456.69 84.9,456.69 86.23,456.69 87.56,456.69 88.9,456.68 90.23,456.68 91.56,456.68 92.9,456.67 94.23,456.67 95.56,456.66 96.89,456.66 98.23,456.65 99.56,456.64 100.89,456.63 102.23,456.62 103.56,456.6 104.89,456.59 106.22,456.57 107.56,456.54 108.89,456.51 110.22,456.48 111.56,456.44 112.89,456.4 114.22,456.35 115.55,456.28 116.89,456.21 118.22,456.13 119.55,456.03 120.89,455.91 122.22,455.78 123.55,455.62 124.89,455.43 126.22,455.22 127.55,454.96 128.88,454.67 130.22,454.33 131.55,453.93 132.88,453.47 134.22,452.94 135.55,452.32 136.88,451.61 138.21,450.81 139.55,449.88 140.88,448.83 142.21,447.64 143.55,446.31 144.88,444.82 146.21,443.17 147.54,441.35 148.88,439.37 150.21,437.24 151.54,434.95 152.88,432.54 154.21,430.03 155.54,427.43 156.88,424.79 158.21,422.14 159.54,419.5 160.87,416.92 162.21,414.42 163.54,412.04 164.87,409.78 166.21,407.68 167.54,405.73 168.87,403.95 170.2,402.33 171.54,400.87 172.87,399.57 174.2,398.41 175.54,397.38 176.87,396.48 178.2,395.7 179.53,395.01 180.87,394.41 182.2,393.89 183.53,393.45 184.87,393.06 186.2,392.73 187.53,392.44 188.87,392.2 190.2,391.99 191.53,391.81 192.86,391.65 194.2,391.52 195.53,391.41 196.86,391.31 198.2,391.23 199.53,391.16 200.86,391.1 202.19,391.05 203.53,391.01 204.86,390.97 206.19,390.94 207.53,390.91 208.86,390.89 210.19,390.87 211.52,390.85 212.86,390.84 214.19,390.83 215.52,390.82 216.86,390.81 218.19,390.8" fill="none" stroke="#ea4f33" stroke-width="1.25" stroke-linejoin="round"/>
<polyline points="103.94,459.45 105.27,459.44 106.61,459.42 107.94,459.4 109.27,459.38 110.6,459.36 111.94,459.33 113.27,459.29 114.6,459.25 115.94,459.21 117.27,459.15 118.6,459.08 119.93,459.01 121.27,458.92 122.6,458.81 123.93,458.69 125.27,458.55 126.6,458.38 127.93,458.18 129.26,457.95 130.6,457.68 131.93,457.37 133.26,457.01 134.6,456.58 135.93,456.1 137.26,455.53 138.6,454.88 139.93,454.13 141.26,453.27 142.59,452.29 143.93,451.18 145.26,449.92 146.59,448.51 147.93,446.93 149.26,445.18 150.59,443.26 151.92,441.17 153.26,438.91 154.59,436.5 155.92,433.96 157.26,431.3 158.59,428.57 159.92,425.79 161.25,422.99 162.59,420.22 163.92,417.51 165.25,414.89 166.59,412.39 167.92,410.02 169.25,407.82 170.59,405.78 171.92,403.91 173.25,402.22 174.58,400.69 175.92,399.33 177.25,398.12 178.58,397.05 179.92,396.11 181.25,395.28 182.58,394.56 183.91,393.94 185.25,393.4 186.58,392.93 187.91,392.53 189.25,392.18 190.58,391.89 191.91,391.63 193.24,391.41 194.58,391.22 195.91,391.06 197.24,390.93 198.58,390.81 199.91,390.71 201.24,390.62 202.58,390.55 203.91,390.49 205.24,390.44 206.57,390.39 207.91,390.35 209.24,390.32 210.57,390.29 211.91,390.27 213.24,390.25 214.57,390.23 215.9,390.22 217.24,390.2 218.57,390.19 219.9,390.18 221.24,390.18 222.57,390.17 223.9,390.16 225.23,390.16 226.57,390.16 227.9,390.15 229.23,390.15 230.57,390.15 231.9,390.14 233.23,390.14 234.57,390.14 235.9,390.14 237.23,390.14 238.56,390.14 239.9,390.14 241.23,390.14 242.56,390.14 243.9,390.13 245.23,390.13 246.56,390.13 247.89,390.13 249.23,390.13 250.56,390.13 251.89,390.13 253.23,390.13 254.56,390.13 255.89,390.13 257.22,390.13 258.56,390.13 259.89,390.13 261.22,390.13 262.56,390.13 263.89,390.13" fill="none" stroke="#111" stroke-width="1.25" stroke-linejoin="round"/>
<polygon points="58.24,459.32 61.49,453.63 54.99,453.63" fill="#3f6cf2"/>
<polygon points="81.09,459.32 84.34,453.63 77.84,453.63" fill="#3f6cf2"/>
<polygon points="103.94,459.32 107.19,453.63 100.69,453.63" fill="#3f6cf2"/>
<polygon points="126.79,459.32 130.04,453.63 123.54,453.63" fill="#3f6cf2"/>
<polygon points="149.64,457.44 152.89,451.75 146.39,451.75" fill="#3f6cf2"/>
<line x1="172.49" y1="416.76" x2="172.49" y2="433.09" stroke="#3f6cf2" stroke-width="1.2" />
<line x1="169.19" y1="416.76" x2="175.79" y2="416.76" stroke="#3f6cf2" stroke-width="1.2" />
<line x1="169.19" y1="433.09" x2="175.79" y2="433.09" stroke="#3f6cf2" stroke-width="1.2" />
<polygon points="172.49,428.17 175.74,422.49 169.24,422.49" fill="#3f6cf2"/>
<line x1="195.34" y1="396.41" x2="195.34" y2="402.69" stroke="#3f6cf2" stroke-width="1.2" />
<line x1="192.04" y1="396.41" x2="198.64" y2="396.41" stroke="#3f6cf2" stroke-width="1.2" />
<line x1="192.04" y1="402.69" x2="198.64" y2="402.69" stroke="#3f6cf2" stroke-width="1.2" />
<polygon points="195.34,402.8 198.59,397.11 192.09,397.11" fill="#3f6cf2"/>
<polygon points="218.19,397.15 221.44,391.46 214.94,391.46" fill="#3f6cf2"/>
<polygon points="58.24,453.76 61.49,459.45 54.99,459.45" fill="#ea4f33"/>
<polygon points="81.09,453.76 84.34,459.45 77.84,459.45" fill="#ea4f33"/>
<polygon points="149.64,439.76 152.89,445.45 146.39,445.45" fill="#ea4f33"/>
<polygon points="172.49,396.93 175.74,402.62 169.24,402.62" fill="#ea4f33"/>
<line x1="195.34" y1="393.9" x2="195.34" y2="398.92" stroke="#ea4f33" stroke-width="1.2" />
<line x1="192.04" y1="393.9" x2="198.64" y2="393.9" stroke="#ea4f33" stroke-width="1.2" />
<line x1="192.04" y1="398.92" x2="198.64" y2="398.92" stroke="#ea4f33" stroke-width="1.2" />
<polygon points="195.34,393.16 198.59,398.85 192.09,398.85" fill="#ea4f33"/>
<line x1="218.19" y1="391.39" x2="218.19" y2="396.41" stroke="#ea4f33" stroke-width="1.2" />
<line x1="214.89" y1="391.39" x2="221.49" y2="391.39" stroke="#ea4f33" stroke-width="1.2" />
<line x1="214.89" y1="396.41" x2="221.49" y2="396.41" stroke="#ea4f33" stroke-width="1.2" />
<polygon points="218.19,390.65 221.44,396.34 214.94,396.34" fill="#ea4f33"/>
<circle cx="103.94" cy="456.32" r="2.9" fill="#111"/>
<circle cx="126.79" cy="456.07" r="2.9" fill="#111"/>
<circle cx="149.64" cy="453.31" r="2.9" fill="#111"/>
<line x1="172.49" y1="395.16" x2="172.49" y2="401.44" stroke="#111" stroke-width="1.2" />
<line x1="169.19" y1="395.16" x2="175.79" y2="395.16" stroke="#111" stroke-width="1.2" />
<line x1="169.19" y1="401.44" x2="175.79" y2="401.44" stroke="#111" stroke-width="1.2" />
<circle cx="172.49" cy="398.3" r="2.9" fill="#111"/>
<line x1="195.34" y1="386.36" x2="195.34" y2="392.64" stroke="#111" stroke-width="1.2" />
<line x1="192.04" y1="386.36" x2="198.64" y2="386.36" stroke="#111" stroke-width="1.2" />
<line x1="192.04" y1="392.64" x2="198.64" y2="392.64" stroke="#111" stroke-width="1.2" />
<circle cx="195.34" cy="389.5" r="2.9" fill="#111"/>
<line x1="218.19" y1="378.45" x2="218.19" y2="393.52" stroke="#111" stroke-width="1.2" />
<line x1="214.89" y1="378.45" x2="221.49" y2="378.45" stroke="#111" stroke-width="1.2" />
<line x1="214.89" y1="393.52" x2="221.49" y2="393.52" stroke="#111" stroke-width="1.2" />
<circle cx="218.19" cy="385.99" r="2.9" fill="#111"/>
<line x1="241.04" y1="391.7" x2="241.04" y2="404.26" stroke="#111" stroke-width="1.2" />
<line x1="237.74" y1="391.7" x2="244.34" y2="391.7" stroke="#111" stroke-width="1.2" />
<line x1="237.74" y1="404.26" x2="244.34" y2="404.26" stroke="#111" stroke-width="1.2" />
<circle cx="241.04" cy="397.98" r="2.9" fill="#111"/>
<line x1="263.89" y1="393.52" x2="263.89" y2="396.04" stroke="#111" stroke-width="1.2" />
<line x1="260.59" y1="393.52" x2="267.19" y2="393.52" stroke="#111" stroke-width="1.2" />
<line x1="260.59" y1="396.04" x2="267.19" y2="396.04" stroke="#111" stroke-width="1.2" />
<circle cx="263.89" cy="394.78" r="2.9" fill="#111"/>
<line x1="59" y1="408.2" x2="76.2" y2="408.2" stroke="#3f6cf2" stroke-width="1.2" />
<polygon points="67.3,410.8 70.3,405.55 64.3,405.55" fill="#3f6cf2"/>
<text x="81.4" y="411.9" font-size="10.5" text-anchor="start" font-weight="normal" fill="#1e1e1e" >OX-B</text>
<line x1="59" y1="395.3" x2="76.2" y2="395.3" stroke="#ea4f33" stroke-width="1.2" />
<polygon points="67.3,392.7 70.3,397.95 64.3,397.95" fill="#ea4f33"/>
<text x="81.4" y="399" font-size="10.5" text-anchor="start" font-weight="normal" fill="#1e1e1e" >OX-A</text>
<line x1="59" y1="381.7" x2="76.2" y2="381.7" stroke="#111" stroke-width="1.2" />
<circle cx="67.3" cy="381.7" r="2.6" fill="#111"/>
<text x="81.4" y="385.4" font-size="10.5" text-anchor="start" font-weight="normal" fill="#1e1e1e" >TAK-861</text>
<line x1="377.6" y1="456.3" x2="598.6" y2="456.3" stroke="#111" stroke-width="1.25" stroke-dasharray="1.1 1.3"/>
<line x1="376.1" y1="377.3" x2="376.1" y2="472.1" stroke="#2b2b2b" stroke-width="1.2" />
<line x1="371.6" y1="472.1" x2="376.1" y2="472.1" stroke="#2b2b2b" stroke-width="1.2" />
<text x="366.5" y="475.1" font-size="10.5" text-anchor="end" font-weight="normal" fill="#1e1e1e" >−25</text>
<line x1="371.6" y1="456.3" x2="376.1" y2="456.3" stroke="#2b2b2b" stroke-width="1.2" />
<text x="366.5" y="459.3" font-size="10.5" text-anchor="end" font-weight="normal" fill="#1e1e1e" >0</text>
<line x1="371.6" y1="440.5" x2="376.1" y2="440.5" stroke="#2b2b2b" stroke-width="1.2" />
<text x="366.5" y="443.5" font-size="10.5" text-anchor="end" font-weight="normal" fill="#1e1e1e" >25</text>
<line x1="371.6" y1="424.7" x2="376.1" y2="424.7" stroke="#2b2b2b" stroke-width="1.2" />
<text x="366.5" y="427.7" font-size="10.5" text-anchor="end" font-weight="normal" fill="#1e1e1e" >50</text>
<line x1="371.6" y1="408.9" x2="376.1" y2="408.9" stroke="#2b2b2b" stroke-width="1.2" />
<text x="366.5" y="411.9" font-size="10.5" text-anchor="end" font-weight="normal" fill="#1e1e1e" >75</text>
<line x1="371.6" y1="393.1" x2="376.1" y2="393.1" stroke="#2b2b2b" stroke-width="1.2" />
<text x="366.5" y="396.1" font-size="10.5" text-anchor="end" font-weight="normal" fill="#1e1e1e" >100</text>
<line x1="371.6" y1="377.3" x2="376.1" y2="377.3" stroke="#2b2b2b" stroke-width="1.2" />
<text x="366.5" y="380.3" font-size="10.5" text-anchor="end" font-weight="normal" fill="#1e1e1e" >125</text>
<line x1="375.5" y1="472.1" x2="604.7" y2="472.1" stroke="#2b2b2b" stroke-width="1.2" />
<line x1="376.1" y1="472.1" x2="376.1" y2="477.1" stroke="#2b2b2b" stroke-width="1.2" />
<text x="370.8" y="488.2" font-size="10.5" text-anchor="middle" font-weight="normal" fill="#1e1e1e" >−14</text>
<line x1="398.9" y1="472.1" x2="398.9" y2="477.1" stroke="#2b2b2b" stroke-width="1.2" />
<text x="393.9" y="488.2" font-size="10.5" text-anchor="middle" font-weight="normal" fill="#1e1e1e" >−13</text>
<line x1="421.7" y1="472.1" x2="421.7" y2="477.1" stroke="#2b2b2b" stroke-width="1.2" />
<text x="416.9" y="488.2" font-size="10.5" text-anchor="middle" font-weight="normal" fill="#1e1e1e" >−12</text>
<line x1="444.5" y1="472.1" x2="444.5" y2="477.1" stroke="#2b2b2b" stroke-width="1.2" />
<text x="441.7" y="488.2" font-size="10.5" text-anchor="middle" font-weight="normal" fill="#1e1e1e" >−11</text>
<line x1="467.3" y1="472.1" x2="467.3" y2="477.1" stroke="#2b2b2b" stroke-width="1.2" />
<text x="465.8" y="488.2" font-size="10.5" text-anchor="middle" font-weight="normal" fill="#1e1e1e" >−10</text>
<line x1="490.1" y1="472.1" x2="490.1" y2="477.1" stroke="#2b2b2b" stroke-width="1.2" />
<text x="489.3" y="488.2" font-size="10.5" text-anchor="middle" font-weight="normal" fill="#1e1e1e" >−9</text>
<line x1="512.9" y1="472.1" x2="512.9" y2="477.1" stroke="#2b2b2b" stroke-width="1.2" />
<text x="512.1" y="488.2" font-size="10.5" text-anchor="middle" font-weight="normal" fill="#1e1e1e" >−8</text>
<line x1="535.7" y1="472.1" x2="535.7" y2="477.1" stroke="#2b2b2b" stroke-width="1.2" />
<text x="534.9" y="488.2" font-size="10.5" text-anchor="middle" font-weight="normal" fill="#1e1e1e" >−7</text>
<line x1="558.5" y1="472.1" x2="558.5" y2="477.1" stroke="#2b2b2b" stroke-width="1.2" />
<text x="557.7" y="488.2" font-size="10.5" text-anchor="middle" font-weight="normal" fill="#1e1e1e" >−6</text>
<line x1="581.3" y1="472.1" x2="581.3" y2="477.1" stroke="#2b2b2b" stroke-width="1.2" />
<text x="580.5" y="488.2" font-size="10.5" text-anchor="middle" font-weight="normal" fill="#1e1e1e" >−5</text>
<line x1="604.1" y1="472.1" x2="604.1" y2="477.1" stroke="#2b2b2b" stroke-width="1.2" />
<text x="603.3" y="488.2" font-size="10.5" text-anchor="middle" font-weight="normal" fill="#1e1e1e" >−4</text>
<text x="0" y="0" font-size="10.5" text-anchor="middle" fill="#1e1e1e" transform="translate(341,424.5) rotate(-90)">% of control</text>
<text x="488.9" y="356.9" font-size="10.5" text-anchor="middle" font-weight="bold" fill="#111" >β-Arrestin recruitment</text>
<text x="488.7" y="504.6" font-size="10.5" text-anchor="middle" font-weight="normal" fill="#1e1e1e" >Log[Conc.(M)]</text>
<polyline points="386.36,456.3 387.69,456.3 389.02,456.3 390.35,456.3 391.68,456.3 393.01,456.3 394.34,456.3 395.67,456.3 397,456.3 398.33,456.3 399.66,456.3 400.99,456.3 402.32,456.3 403.65,456.3 404.98,456.3 406.31,456.3 407.64,456.3 408.97,456.3 410.3,456.3 411.63,456.3 412.96,456.3 414.29,456.3 415.62,456.3 416.95,456.29 418.28,456.29 419.61,456.29 420.94,456.29 422.27,456.29 423.6,456.29 424.93,456.29 426.26,456.29 427.59,456.28 428.92,456.28 430.25,456.28 431.58,456.27 432.91,456.27 434.24,456.26 435.57,456.26 436.9,456.25 438.23,456.24 439.56,456.23 440.89,456.22 442.22,456.21 443.55,456.2 444.88,456.18 446.21,456.16 447.54,456.14 448.87,456.12 450.2,456.09 451.53,456.05 452.86,456.01 454.19,455.97 455.52,455.92 456.85,455.86 458.18,455.79 459.51,455.7 460.84,455.61 462.17,455.5 463.5,455.38 464.83,455.23 466.16,455.07 467.49,454.87 468.82,454.65 470.15,454.4 471.48,454.1 472.81,453.77 474.14,453.38 475.47,452.94 476.8,452.44 478.13,451.87 479.46,451.22 480.79,450.49 482.12,449.66 483.45,448.73 484.78,447.68 486.11,446.52 487.44,445.23 488.77,443.82 490.1,442.27 491.43,440.58 492.76,438.77 494.09,436.83 495.42,434.77 496.75,432.61 498.08,430.37 499.41,428.07 500.74,425.73 502.07,423.37 503.4,421.03 504.73,418.72 506.06,416.47 507.39,414.3 508.72,412.23 510.05,410.27 511.38,408.44 512.71,406.74 514.04,405.17 515.37,403.73 516.7,402.42 518.03,401.24 519.36,400.18 520.69,399.24 522.02,398.39 523.35,397.65 524.68,396.98 526.01,396.4 527.34,395.89 528.67,395.44 530,395.05 531.33,394.71 532.66,394.41 533.99,394.15 535.32,393.92 536.65,393.73 537.98,393.56 539.31,393.41 540.64,393.28 541.97,393.17 543.3,393.08 544.63,392.99 545.96,392.92" fill="none" stroke="#3f6cf2" stroke-width="1.25" stroke-linejoin="round"/>
<polyline points="386.36,456.93 387.69,456.93 389.02,456.93 390.35,456.93 391.68,456.93 393.01,456.93 394.34,456.93 395.67,456.93 397,456.93 398.33,456.93 399.66,456.93 400.99,456.93 402.32,456.93 403.65,456.93 404.98,456.93 406.31,456.93 407.64,456.93 408.97,456.93 410.3,456.93 411.63,456.93 412.96,456.93 414.29,456.93 415.62,456.93 416.95,456.93 418.28,456.92 419.61,456.92 420.94,456.92 422.27,456.92 423.6,456.92 424.93,456.92 426.26,456.91 427.59,456.91 428.92,456.91 430.25,456.9 431.58,456.9 432.91,456.89 434.24,456.88 435.57,456.88 436.9,456.87 438.23,456.86 439.56,456.85 440.89,456.83 442.22,456.82 443.55,456.8 444.88,456.78 446.21,456.75 447.54,456.73 448.87,456.69 450.2,456.66 451.53,456.61 452.86,456.56 454.19,456.5 455.52,456.43 456.85,456.35 458.18,456.26 459.51,456.16 460.84,456.04 462.17,455.9 463.5,455.74 464.83,455.55 466.16,455.33 467.49,455.09 468.82,454.8 470.15,454.48 471.48,454.1 472.81,453.68 474.14,453.19 475.47,452.63 476.8,452 478.13,451.28 479.46,450.47 480.79,449.56 482.12,448.54 483.45,447.4 484.78,446.14 486.11,444.75 487.44,443.22 488.77,441.56 490.1,439.76 491.43,437.84 492.76,435.79 494.09,433.64 495.42,431.4 496.75,429.09 498.08,426.74 499.41,424.36 500.74,421.99 502.07,419.64 503.4,417.35 504.73,415.13 506.06,413.01 507.39,411 508.72,409.11 510.05,407.35 511.38,405.73 512.71,404.24 514.04,402.89 515.37,401.66 516.7,400.55 518.03,399.57 519.36,398.69 520.69,397.9 522.02,397.21 523.35,396.6 524.68,396.07 526.01,395.6 527.34,395.18 528.67,394.82 530,394.51 531.33,394.24 532.66,394 533.99,393.79 535.32,393.62 536.65,393.46 537.98,393.33 539.31,393.21 540.64,393.11 541.97,393.02 543.3,392.95 544.63,392.88 545.96,392.82" fill="none" stroke="#ea4f33" stroke-width="1.25" stroke-linejoin="round"/>
<polyline points="431.96,456.62 433.29,456.62 434.62,456.61 435.95,456.61 437.28,456.61 438.61,456.61 439.94,456.61 441.27,456.61 442.6,456.61 443.93,456.61 445.26,456.61 446.59,456.61 447.92,456.61 449.25,456.61 450.58,456.61 451.91,456.61 453.24,456.61 454.57,456.6 455.9,456.6 457.23,456.6 458.56,456.59 459.89,456.59 461.22,456.59 462.55,456.58 463.88,456.57 465.21,456.57 466.54,456.56 467.87,456.55 469.2,456.53 470.53,456.52 471.86,456.5 473.19,456.48 474.52,456.46 475.85,456.43 477.18,456.39 478.51,456.35 479.84,456.31 481.17,456.25 482.5,456.18 483.83,456.1 485.16,456.01 486.49,455.9 487.82,455.77 489.15,455.62 490.48,455.44 491.81,455.23 493.14,454.98 494.47,454.69 495.8,454.36 497.13,453.96 498.46,453.5 499.79,452.96 501.12,452.34 502.45,451.62 503.78,450.78 505.11,449.83 506.44,448.74 507.77,447.51 509.1,446.12 510.43,444.56 511.76,442.83 513.09,440.92 514.42,438.85 515.75,436.61 517.08,434.23 518.41,431.73 519.74,429.13 521.07,426.46 522.4,423.77 523.73,421.09 525.06,418.46 526.39,415.91 527.72,413.48 529.05,411.18 530.38,409.03 531.71,407.05 533.04,405.25 534.37,403.62 535.7,402.15 537.03,400.85 538.36,399.7 539.69,398.69 541.02,397.81 542.35,397.04 543.68,396.38 545.01,395.81 546.34,395.31 547.67,394.89 549,394.53 550.33,394.22 551.66,393.95 552.99,393.73 554.32,393.54 555.65,393.37 556.98,393.24 558.31,393.12 559.64,393.02 560.97,392.93 562.3,392.86 563.63,392.8 564.96,392.75 566.29,392.71 567.62,392.67 568.95,392.64 570.28,392.61 571.61,392.59 572.94,392.57 574.27,392.56 575.6,392.54 576.93,392.53 578.26,392.52 579.59,392.51 580.92,392.51 582.25,392.5 583.58,392.5 584.91,392.49 586.24,392.49 587.57,392.48 588.9,392.48 590.23,392.48 591.56,392.48" fill="none" stroke="#111" stroke-width="1.25" stroke-linejoin="round"/>
<line x1="386.36" y1="454.4" x2="386.36" y2="456.93" stroke="#3f6cf2" stroke-width="1.2" />
<line x1="383.06" y1="454.4" x2="389.66" y2="454.4" stroke="#3f6cf2" stroke-width="1.2" />
<line x1="383.06" y1="456.93" x2="389.66" y2="456.93" stroke="#3f6cf2" stroke-width="1.2" />
<polygon points="386.36,458.92 389.61,453.23 383.11,453.23" fill="#3f6cf2"/>
<line x1="409.16" y1="454.4" x2="409.16" y2="456.93" stroke="#3f6cf2" stroke-width="1.2" />
<line x1="405.86" y1="454.4" x2="412.46" y2="454.4" stroke="#3f6cf2" stroke-width="1.2" />
<line x1="405.86" y1="456.93" x2="412.46" y2="456.93" stroke="#3f6cf2" stroke-width="1.2" />
<polygon points="409.16,458.92 412.41,453.23 405.91,453.23" fill="#3f6cf2"/>
<polygon points="431.96,459.55 435.21,453.86 428.71,453.86" fill="#3f6cf2"/>
<polygon points="454.76,459.55 458.01,453.86 451.51,453.86" fill="#3f6cf2"/>
<polygon points="477.56,459.55 480.81,453.86 474.31,453.86" fill="#3f6cf2"/>
<polygon points="500.36,429.85 503.61,424.16 497.11,424.16" fill="#3f6cf2"/>
<polygon points="523.16,396.54 526.41,390.85 519.91,390.85" fill="#3f6cf2"/>
<polygon points="545.96,396.35 549.21,390.66 542.71,390.66" fill="#3f6cf2"/>
<polygon points="386.36,453.68 389.61,459.37 383.11,459.37" fill="#ea4f33"/>
<polygon points="409.16,453.68 412.41,459.37 405.91,459.37" fill="#ea4f33"/>
<polygon points="500.36,418.92 503.61,424.61 497.11,424.61" fill="#ea4f33"/>
<polygon points="523.16,392.38 526.41,398.07 519.91,398.07" fill="#ea4f33"/>
<polygon points="545.96,389.85 549.21,395.54 542.71,395.54" fill="#ea4f33"/>
<circle cx="431.96" cy="456.3" r="2.9" fill="#111"/>
<circle cx="454.76" cy="456.3" r="2.9" fill="#111"/>
<circle cx="477.56" cy="456.3" r="2.9" fill="#111"/>
<circle cx="500.36" cy="452.51" r="2.9" fill="#111"/>
<circle cx="523.16" cy="422.17" r="2.9" fill="#111"/>
<circle cx="545.96" cy="393.42" r="2.9" fill="#111"/>
<circle cx="568.76" cy="392.47" r="2.9" fill="#111"/>
<circle cx="591.56" cy="393.1" r="2.9" fill="#111"/>
<line x1="388.5" y1="408.2" x2="405.7" y2="408.2" stroke="#3f6cf2" stroke-width="1.2" />
<polygon points="396.8,410.8 399.8,405.55 393.8,405.55" fill="#3f6cf2"/>
<text x="410.4" y="411.9" font-size="10.5" text-anchor="start" font-weight="normal" fill="#1e1e1e" >OX-B</text>
<line x1="388.5" y1="395.8" x2="405.7" y2="395.8" stroke="#ea4f33" stroke-width="1.2" />
<polygon points="396.8,393.2 399.8,398.45 393.8,398.45" fill="#ea4f33"/>
<text x="410.4" y="399.5" font-size="10.5" text-anchor="start" font-weight="normal" fill="#1e1e1e" >OX-A</text>
<line x1="388.5" y1="382.2" x2="405.7" y2="382.2" stroke="#111" stroke-width="1.2" />
<circle cx="396.8" cy="382.2" r="2.6" fill="#111"/>
<text x="410.4" y="385.9" font-size="10.5" text-anchor="start" font-weight="normal" fill="#1e1e1e" >TAK-861</text>
<line x1="49.5" y1="633.6" x2="269.9" y2="633.6" stroke="#111" stroke-width="1.25" stroke-dasharray="1.1 1.3"/>
<line x1="48" y1="555.8" x2="48" y2="649.16" stroke="#2b2b2b" stroke-width="1.2" />
<line x1="43.5" y1="649.16" x2="48" y2="649.16" stroke="#2b2b2b" stroke-width="1.2" />
<text x="38.4" y="652.16" font-size="10.5" text-anchor="end" font-weight="normal" fill="#1e1e1e" >−25</text>
<line x1="43.5" y1="633.6" x2="48" y2="633.6" stroke="#2b2b2b" stroke-width="1.2" />
<text x="38.4" y="636.6" font-size="10.5" text-anchor="end" font-weight="normal" fill="#1e1e1e" >0</text>
<line x1="43.5" y1="618.04" x2="48" y2="618.04" stroke="#2b2b2b" stroke-width="1.2" />
<text x="38.4" y="621.04" font-size="10.5" text-anchor="end" font-weight="normal" fill="#1e1e1e" >25</text>
<line x1="43.5" y1="602.48" x2="48" y2="602.48" stroke="#2b2b2b" stroke-width="1.2" />
<text x="38.4" y="605.48" font-size="10.5" text-anchor="end" font-weight="normal" fill="#1e1e1e" >50</text>
<line x1="43.5" y1="586.92" x2="48" y2="586.92" stroke="#2b2b2b" stroke-width="1.2" />
<text x="38.4" y="589.92" font-size="10.5" text-anchor="end" font-weight="normal" fill="#1e1e1e" >75</text>
<line x1="43.5" y1="571.36" x2="48" y2="571.36" stroke="#2b2b2b" stroke-width="1.2" />
<text x="38.4" y="574.36" font-size="10.5" text-anchor="end" font-weight="normal" fill="#1e1e1e" >100</text>
<line x1="43.5" y1="555.8" x2="48" y2="555.8" stroke="#2b2b2b" stroke-width="1.2" />
<text x="38.4" y="558.8" font-size="10.5" text-anchor="end" font-weight="normal" fill="#1e1e1e" >125</text>
<line x1="47.4" y1="649.16" x2="277.1" y2="649.16" stroke="#2b2b2b" stroke-width="1.2" />
<line x1="48" y1="649.16" x2="48" y2="654.16" stroke="#2b2b2b" stroke-width="1.2" />
<text x="42.7" y="665.5" font-size="10.5" text-anchor="middle" font-weight="normal" fill="#1e1e1e" >−14</text>
<line x1="70.85" y1="649.16" x2="70.85" y2="654.16" stroke="#2b2b2b" stroke-width="1.2" />
<text x="65.85" y="665.5" font-size="10.5" text-anchor="middle" font-weight="normal" fill="#1e1e1e" >−13</text>
<line x1="93.7" y1="649.16" x2="93.7" y2="654.16" stroke="#2b2b2b" stroke-width="1.2" />
<text x="88.9" y="665.5" font-size="10.5" text-anchor="middle" font-weight="normal" fill="#1e1e1e" >−12</text>
<line x1="116.55" y1="649.16" x2="116.55" y2="654.16" stroke="#2b2b2b" stroke-width="1.2" />
<text x="113.75" y="665.5" font-size="10.5" text-anchor="middle" font-weight="normal" fill="#1e1e1e" >−11</text>
<line x1="139.4" y1="649.16" x2="139.4" y2="654.16" stroke="#2b2b2b" stroke-width="1.2" />
<text x="137.9" y="665.5" font-size="10.5" text-anchor="middle" font-weight="normal" fill="#1e1e1e" >−10</text>
<line x1="162.25" y1="649.16" x2="162.25" y2="654.16" stroke="#2b2b2b" stroke-width="1.2" />
<text x="161.45" y="665.5" font-size="10.5" text-anchor="middle" font-weight="normal" fill="#1e1e1e" >−9</text>
<line x1="185.1" y1="649.16" x2="185.1" y2="654.16" stroke="#2b2b2b" stroke-width="1.2" />
<text x="184.3" y="665.5" font-size="10.5" text-anchor="middle" font-weight="normal" fill="#1e1e1e" >−8</text>
<line x1="207.95" y1="649.16" x2="207.95" y2="654.16" stroke="#2b2b2b" stroke-width="1.2" />
<text x="207.15" y="665.5" font-size="10.5" text-anchor="middle" font-weight="normal" fill="#1e1e1e" >−7</text>
<line x1="230.8" y1="649.16" x2="230.8" y2="654.16" stroke="#2b2b2b" stroke-width="1.2" />
<text x="230" y="665.5" font-size="10.5" text-anchor="middle" font-weight="normal" fill="#1e1e1e" >−6</text>
<line x1="253.65" y1="649.16" x2="253.65" y2="654.16" stroke="#2b2b2b" stroke-width="1.2" />
<text x="252.85" y="665.5" font-size="10.5" text-anchor="middle" font-weight="normal" fill="#1e1e1e" >−5</text>
<line x1="276.5" y1="649.16" x2="276.5" y2="654.16" stroke="#2b2b2b" stroke-width="1.2" />
<text x="275.7" y="665.5" font-size="10.5" text-anchor="middle" font-weight="normal" fill="#1e1e1e" >−4</text>
<text x="0" y="0" font-size="10.5" text-anchor="middle" fill="#1e1e1e" transform="translate(9.8,602) rotate(-90)">% of control</text>
<text x="161.8" y="533.1" font-size="10.5" text-anchor="middle" font-weight="bold" fill="#111" >Phospho-ERK1/2</text>
<text x="162.5" y="680.6" font-size="10.5" text-anchor="middle" font-weight="normal" fill="#1e1e1e" >Log[Conc.(M)]</text>
<polyline points="58.05,633.6 59.39,633.6 60.72,633.6 62.05,633.6 63.39,633.6 64.72,633.6 66.05,633.6 67.38,633.6 68.72,633.6 70.05,633.6 71.38,633.6 72.72,633.6 74.05,633.6 75.38,633.6 76.71,633.6 78.05,633.6 79.38,633.6 80.71,633.6 82.05,633.6 83.38,633.6 84.71,633.6 86.05,633.6 87.38,633.6 88.71,633.6 90.04,633.6 91.38,633.6 92.71,633.6 94.04,633.59 95.38,633.59 96.71,633.59 98.04,633.59 99.37,633.59 100.71,633.59 102.04,633.59 103.37,633.59 104.71,633.58 106.04,633.58 107.37,633.58 108.7,633.58 110.04,633.57 111.37,633.57 112.7,633.57 114.04,633.56 115.37,633.56 116.7,633.55 118.04,633.55 119.37,633.54 120.7,633.53 122.03,633.52 123.37,633.51 124.7,633.5 126.03,633.48 127.37,633.47 128.7,633.45 130.03,633.43 131.36,633.4 132.7,633.38 134.03,633.35 135.36,633.31 136.7,633.28 138.03,633.23 139.36,633.18 140.69,633.13 142.03,633.06 143.36,632.99 144.69,632.91 146.03,632.81 147.36,632.71 148.69,632.59 150.03,632.46 151.36,632.3 152.69,632.13 154.02,631.94 155.36,631.72 156.69,631.47 158.02,631.19 159.36,630.88 160.69,630.53 162.02,630.14 163.35,629.7 164.69,629.22 166.02,628.67 167.35,628.07 168.69,627.4 170.02,626.66 171.35,625.84 172.68,624.95 174.02,623.98 175.35,622.92 176.68,621.77 178.02,620.53 179.35,619.21 180.68,617.81 182.02,616.32 183.35,614.76 184.68,613.13 186.01,611.45 187.35,609.72 188.68,607.96 190.01,606.17 191.35,604.39 192.68,602.61 194.01,600.86 195.34,599.14 196.68,597.48 198.01,595.87 199.34,594.34 200.68,592.88 202.01,591.5 203.34,590.21 204.67,589.01 206.01,587.89 207.34,586.86 208.67,585.91 210.01,585.05 211.34,584.26 212.67,583.55 214.01,582.9 215.34,582.32 216.67,581.79 218,581.32" fill="none" stroke="#3f6cf2" stroke-width="1.25" stroke-linejoin="round"/>
<polyline points="58.05,634.22 59.39,634.22 60.72,634.22 62.05,634.22 63.39,634.22 64.72,634.22 66.05,634.22 67.38,634.22 68.72,634.22 70.05,634.22 71.38,634.22 72.72,634.22 74.05,634.22 75.38,634.22 76.71,634.22 78.05,634.22 79.38,634.22 80.71,634.22 82.05,634.22 83.38,634.22 84.71,634.22 86.05,634.22 87.38,634.22 88.71,634.22 90.04,634.22 91.38,634.22 92.71,634.22 94.04,634.21 95.38,634.21 96.71,634.21 98.04,634.21 99.37,634.21 100.71,634.21 102.04,634.2 103.37,634.2 104.71,634.2 106.04,634.2 107.37,634.19 108.7,634.19 110.04,634.18 111.37,634.18 112.7,634.17 114.04,634.17 115.37,634.16 116.7,634.15 118.04,634.14 119.37,634.13 120.7,634.12 122.03,634.1 123.37,634.09 124.7,634.07 126.03,634.05 127.37,634.02 128.7,633.99 130.03,633.96 131.36,633.93 132.7,633.89 134.03,633.84 135.36,633.79 136.7,633.73 138.03,633.67 139.36,633.59 140.69,633.51 142.03,633.41 143.36,633.3 144.69,633.18 146.03,633.04 147.36,632.88 148.69,632.71 150.03,632.51 151.36,632.28 152.69,632.03 154.02,631.74 155.36,631.42 156.69,631.06 158.02,630.66 159.36,630.2 160.69,629.7 162.02,629.14 163.35,628.52 164.69,627.82 166.02,627.06 167.35,626.22 168.69,625.3 170.02,624.29 171.35,623.2 172.68,622.02 174.02,620.74 175.35,619.38 176.68,617.93 178.02,616.39 179.35,614.78 180.68,613.1 182.02,611.36 183.35,609.57 184.68,607.75 186.01,605.91 187.35,604.07 188.68,602.23 190.01,600.42 191.35,598.65 192.68,596.93 194.01,595.27 195.34,593.68 196.68,592.17 198.01,590.74 199.34,589.41 200.68,588.16 202.01,587.01 203.34,585.94 204.67,584.96 206.01,584.07 207.34,583.25 208.67,582.51 210.01,581.84 211.34,581.24 212.67,580.7 214.01,580.21 215.34,579.77 216.67,579.38 218,579.04" fill="none" stroke="#ea4f33" stroke-width="1.25" stroke-linejoin="round"/>
<polyline points="103.75,633.59 105.09,633.59 106.42,633.59 107.75,633.59 109.09,633.59 110.42,633.58 111.75,633.58 113.08,633.58 114.42,633.58 115.75,633.57 117.08,633.57 118.42,633.57 119.75,633.56 121.08,633.56 122.41,633.55 123.75,633.54 125.08,633.54 126.41,633.53 127.75,633.52 129.08,633.51 130.41,633.49 131.75,633.48 133.08,633.46 134.41,633.44 135.74,633.42 137.08,633.4 138.41,633.37 139.74,633.34 141.08,633.31 142.41,633.27 143.74,633.22 145.07,633.17 146.41,633.11 147.74,633.04 149.07,632.97 150.41,632.89 151.74,632.79 153.07,632.68 154.4,632.56 155.74,632.42 157.07,632.26 158.4,632.09 159.74,631.88 161.07,631.66 162.4,631.41 163.74,631.12 165.07,630.8 166.4,630.44 167.73,630.03 169.07,629.58 170.4,629.08 171.73,628.51 173.07,627.89 174.4,627.2 175.73,626.43 177.06,625.59 178.4,624.67 179.73,623.66 181.06,622.56 182.4,621.37 183.73,620.09 185.06,618.72 186.39,617.26 187.73,615.71 189.06,614.09 190.39,612.4 191.73,610.65 193.06,608.84 194.39,607.01 195.73,605.15 197.06,603.28 198.39,601.42 199.72,599.59 201.06,597.79 202.39,596.05 203.72,594.37 205.06,592.75 206.39,591.22 207.72,589.77 209.05,588.42 210.39,587.15 211.72,585.97 213.05,584.89 214.39,583.89 215.72,582.98 217.05,582.15 218.38,581.39 219.72,580.71 221.05,580.1 222.38,579.54 223.72,579.05 225.05,578.6 226.38,578.2 227.72,577.85 229.05,577.53 230.38,577.25 231.71,577 233.05,576.78 234.38,576.58 235.71,576.41 237.05,576.25 238.38,576.12 239.71,576 241.04,575.89 242.38,575.8 243.71,575.71 245.04,575.64 246.38,575.57 247.71,575.52 249.04,575.47 250.37,575.42 251.71,575.38 253.04,575.35 254.37,575.32 255.71,575.29 257.04,575.27 258.37,575.25 259.71,575.23 261.04,575.21 262.37,575.2 263.7,575.19" fill="none" stroke="#111" stroke-width="1.25" stroke-linejoin="round"/>
<polygon points="58.05,636.23 61.3,630.54 54.8,630.54" fill="#3f6cf2"/>
<polygon points="80.9,636.23 84.15,630.54 77.65,630.54" fill="#3f6cf2"/>
<polygon points="103.75,636.23 107,630.54 100.5,630.54" fill="#3f6cf2"/>
<polygon points="126.6,636.85 129.85,631.16 123.35,631.16" fill="#3f6cf2"/>
<polygon points="149.45,636.85 152.7,631.16 146.2,631.16" fill="#3f6cf2"/>
<polygon points="172.3,630.63 175.55,624.94 169.05,624.94" fill="#3f6cf2"/>
<polygon points="195.15,602 198.4,596.31 191.9,596.31" fill="#3f6cf2"/>
<line x1="218" y1="580.07" x2="218" y2="582.56" stroke="#3f6cf2" stroke-width="1.2" />
<line x1="214.7" y1="580.07" x2="221.3" y2="580.07" stroke="#3f6cf2" stroke-width="1.2" />
<line x1="214.7" y1="582.56" x2="221.3" y2="582.56" stroke="#3f6cf2" stroke-width="1.2" />
<polygon points="218,584.57 221.25,578.88 214.75,578.88" fill="#3f6cf2"/>
<polygon points="58.05,630.97 61.3,636.66 54.8,636.66" fill="#ea4f33"/>
<polygon points="80.9,630.97 84.15,636.66 77.65,636.66" fill="#ea4f33"/>
<line x1="126.6" y1="632.98" x2="126.6" y2="635.47" stroke="#ea4f33" stroke-width="1.2" />
<line x1="123.3" y1="632.98" x2="129.9" y2="632.98" stroke="#ea4f33" stroke-width="1.2" />
<line x1="123.3" y1="635.47" x2="129.9" y2="635.47" stroke="#ea4f33" stroke-width="1.2" />
<polygon points="126.6,630.97 129.85,636.66 123.35,636.66" fill="#ea4f33"/>
<polygon points="149.45,630.97 152.7,636.66 146.2,636.66" fill="#ea4f33"/>
<line x1="172.3" y1="621.4" x2="172.3" y2="626.38" stroke="#ea4f33" stroke-width="1.2" />
<line x1="169" y1="621.4" x2="175.6" y2="621.4" stroke="#ea4f33" stroke-width="1.2" />
<line x1="169" y1="626.38" x2="175.6" y2="626.38" stroke="#ea4f33" stroke-width="1.2" />
<polygon points="172.3,620.64 175.55,626.33 169.05,626.33" fill="#ea4f33"/>
<line x1="195.15" y1="589.41" x2="195.15" y2="598.12" stroke="#ea4f33" stroke-width="1.2" />
<line x1="191.85" y1="589.41" x2="198.45" y2="589.41" stroke="#ea4f33" stroke-width="1.2" />
<line x1="191.85" y1="598.12" x2="198.45" y2="598.12" stroke="#ea4f33" stroke-width="1.2" />
<polygon points="195.15,590.52 198.4,596.2 191.9,596.2" fill="#ea4f33"/>
<line x1="218" y1="573.85" x2="218" y2="578.83" stroke="#ea4f33" stroke-width="1.2" />
<line x1="214.7" y1="573.85" x2="221.3" y2="573.85" stroke="#ea4f33" stroke-width="1.2" />
<line x1="214.7" y1="578.83" x2="221.3" y2="578.83" stroke="#ea4f33" stroke-width="1.2" />
<polygon points="218,573.09 221.25,578.78 214.75,578.78" fill="#ea4f33"/>
<circle cx="103.75" cy="634.53" r="2.9" fill="#111"/>
<circle cx="126.6" cy="632.98" r="2.9" fill="#111"/>
<circle cx="149.45" cy="632.98" r="2.9" fill="#111"/>
<circle cx="172.3" cy="629.68" r="2.9" fill="#111"/>
<line x1="195.15" y1="599.99" x2="195.15" y2="608.7" stroke="#111" stroke-width="1.2" />
<line x1="191.85" y1="599.99" x2="198.45" y2="599.99" stroke="#111" stroke-width="1.2" />
<line x1="191.85" y1="608.7" x2="198.45" y2="608.7" stroke="#111" stroke-width="1.2" />
<circle cx="195.15" cy="604.35" r="2.9" fill="#111"/>
<circle cx="218" cy="586.61" r="2.9" fill="#111"/>
<line x1="240.85" y1="570.12" x2="240.85" y2="577.58" stroke="#111" stroke-width="1.2" />
<line x1="237.55" y1="570.12" x2="244.15" y2="570.12" stroke="#111" stroke-width="1.2" />
<line x1="237.55" y1="577.58" x2="244.15" y2="577.58" stroke="#111" stroke-width="1.2" />
<circle cx="240.85" cy="573.85" r="2.9" fill="#111"/>
<line x1="263.7" y1="569.49" x2="263.7" y2="579.45" stroke="#111" stroke-width="1.2" />
<line x1="260.4" y1="569.49" x2="267" y2="569.49" stroke="#111" stroke-width="1.2" />
<line x1="260.4" y1="579.45" x2="267" y2="579.45" stroke="#111" stroke-width="1.2" />
<circle cx="263.7" cy="574.47" r="2.9" fill="#111"/>
<line x1="58.1" y1="585.6" x2="75.3" y2="585.6" stroke="#3f6cf2" stroke-width="1.2" />
<polygon points="66.4,588.2 69.4,582.95 63.4,582.95" fill="#3f6cf2"/>
<text x="81" y="589.3" font-size="10.5" text-anchor="start" font-weight="normal" fill="#1e1e1e" >OX-B</text>
<line x1="58.1" y1="572.4" x2="75.3" y2="572.4" stroke="#ea4f33" stroke-width="1.2" />
<polygon points="66.4,569.8 69.4,575.05 63.4,575.05" fill="#ea4f33"/>
<text x="81" y="576.1" font-size="10.5" text-anchor="start" font-weight="normal" fill="#1e1e1e" >OX-A</text>
<line x1="58.1" y1="559.2" x2="75.3" y2="559.2" stroke="#111" stroke-width="1.2" />
<circle cx="66.4" cy="559.2" r="2.6" fill="#111"/>
<text x="81" y="562.9" font-size="10.5" text-anchor="start" font-weight="normal" fill="#1e1e1e" >TAK-861</text>
<line x1="377.3" y1="634.2" x2="597.4" y2="634.2" stroke="#111" stroke-width="1.25" stroke-dasharray="1.1 1.3"/>
<line x1="375.8" y1="556.1" x2="375.8" y2="649.82" stroke="#2b2b2b" stroke-width="1.2" />
<line x1="371.3" y1="649.82" x2="375.8" y2="649.82" stroke="#2b2b2b" stroke-width="1.2" />
<text x="366.2" y="652.82" font-size="10.5" text-anchor="end" font-weight="normal" fill="#1e1e1e" >−25</text>
<line x1="371.3" y1="634.2" x2="375.8" y2="634.2" stroke="#2b2b2b" stroke-width="1.2" />
<text x="366.2" y="637.2" font-size="10.5" text-anchor="end" font-weight="normal" fill="#1e1e1e" >0</text>
<line x1="371.3" y1="618.58" x2="375.8" y2="618.58" stroke="#2b2b2b" stroke-width="1.2" />
<text x="366.2" y="621.58" font-size="10.5" text-anchor="end" font-weight="normal" fill="#1e1e1e" >25</text>
<line x1="371.3" y1="602.96" x2="375.8" y2="602.96" stroke="#2b2b2b" stroke-width="1.2" />
<text x="366.2" y="605.96" font-size="10.5" text-anchor="end" font-weight="normal" fill="#1e1e1e" >50</text>
<line x1="371.3" y1="587.34" x2="375.8" y2="587.34" stroke="#2b2b2b" stroke-width="1.2" />
<text x="366.2" y="590.34" font-size="10.5" text-anchor="end" font-weight="normal" fill="#1e1e1e" >75</text>
<line x1="371.3" y1="571.72" x2="375.8" y2="571.72" stroke="#2b2b2b" stroke-width="1.2" />
<text x="366.2" y="574.72" font-size="10.5" text-anchor="end" font-weight="normal" fill="#1e1e1e" >100</text>
<line x1="371.3" y1="556.1" x2="375.8" y2="556.1" stroke="#2b2b2b" stroke-width="1.2" />
<text x="366.2" y="559.1" font-size="10.5" text-anchor="end" font-weight="normal" fill="#1e1e1e" >125</text>
<line x1="375.2" y1="649.82" x2="604.5" y2="649.82" stroke="#2b2b2b" stroke-width="1.2" />
<line x1="375.8" y1="649.82" x2="375.8" y2="654.82" stroke="#2b2b2b" stroke-width="1.2" />
<text x="370.5" y="665.3" font-size="10.5" text-anchor="middle" font-weight="normal" fill="#1e1e1e" >−14</text>
<line x1="398.61" y1="649.82" x2="398.61" y2="654.82" stroke="#2b2b2b" stroke-width="1.2" />
<text x="393.61" y="665.3" font-size="10.5" text-anchor="middle" font-weight="normal" fill="#1e1e1e" >−13</text>
<line x1="421.42" y1="649.82" x2="421.42" y2="654.82" stroke="#2b2b2b" stroke-width="1.2" />
<text x="416.62" y="665.3" font-size="10.5" text-anchor="middle" font-weight="normal" fill="#1e1e1e" >−12</text>
<line x1="444.23" y1="649.82" x2="444.23" y2="654.82" stroke="#2b2b2b" stroke-width="1.2" />
<text x="441.43" y="665.3" font-size="10.5" text-anchor="middle" font-weight="normal" fill="#1e1e1e" >−11</text>
<line x1="467.04" y1="649.82" x2="467.04" y2="654.82" stroke="#2b2b2b" stroke-width="1.2" />
<text x="465.54" y="665.3" font-size="10.5" text-anchor="middle" font-weight="normal" fill="#1e1e1e" >−10</text>
<line x1="489.85" y1="649.82" x2="489.85" y2="654.82" stroke="#2b2b2b" stroke-width="1.2" />
<text x="489.05" y="665.3" font-size="10.5" text-anchor="middle" font-weight="normal" fill="#1e1e1e" >−9</text>
<line x1="512.66" y1="649.82" x2="512.66" y2="654.82" stroke="#2b2b2b" stroke-width="1.2" />
<text x="511.86" y="665.3" font-size="10.5" text-anchor="middle" font-weight="normal" fill="#1e1e1e" >−8</text>
<line x1="535.47" y1="649.82" x2="535.47" y2="654.82" stroke="#2b2b2b" stroke-width="1.2" />
<text x="534.67" y="665.3" font-size="10.5" text-anchor="middle" font-weight="normal" fill="#1e1e1e" >−7</text>
<line x1="558.28" y1="649.82" x2="558.28" y2="654.82" stroke="#2b2b2b" stroke-width="1.2" />
<text x="557.48" y="665.3" font-size="10.5" text-anchor="middle" font-weight="normal" fill="#1e1e1e" >−6</text>
<line x1="581.09" y1="649.82" x2="581.09" y2="654.82" stroke="#2b2b2b" stroke-width="1.2" />
<text x="580.29" y="665.3" font-size="10.5" text-anchor="middle" font-weight="normal" fill="#1e1e1e" >−5</text>
<line x1="603.9" y1="649.82" x2="603.9" y2="654.82" stroke="#2b2b2b" stroke-width="1.2" />
<text x="603.1" y="665.3" font-size="10.5" text-anchor="middle" font-weight="normal" fill="#1e1e1e" >−4</text>
<text x="0" y="0" font-size="10.5" text-anchor="middle" fill="#1e1e1e" transform="translate(341,602) rotate(-90)">% of control</text>
<text x="488.9" y="534" font-size="10.5" text-anchor="middle" font-weight="bold" fill="#111" >Phospho-CREB</text>
<text x="489" y="681" font-size="10.5" text-anchor="middle" font-weight="normal" fill="#1e1e1e" >Log[Conc.(M)]</text>
<polyline points="384.92,634.2 386.25,634.2 387.59,634.2 388.92,634.2 390.25,634.2 391.58,634.2 392.91,634.2 394.24,634.2 395.57,634.2 396.9,634.2 398.23,634.2 399.56,634.2 400.89,634.2 402.22,634.2 403.55,634.2 404.88,634.2 406.21,634.2 407.54,634.2 408.87,634.2 410.21,634.2 411.54,634.19 412.87,634.19 414.2,634.19 415.53,634.19 416.86,634.19 418.19,634.19 419.52,634.19 420.85,634.19 422.18,634.18 423.51,634.18 424.84,634.18 426.17,634.18 427.5,634.17 428.83,634.17 430.16,634.16 431.49,634.16 432.82,634.15 434.16,634.14 435.49,634.14 436.82,634.13 438.15,634.12 439.48,634.1 440.81,634.09 442.14,634.08 443.47,634.06 444.8,634.04 446.13,634.01 447.46,633.99 448.79,633.96 450.12,633.92 451.45,633.88 452.78,633.84 454.11,633.79 455.44,633.73 456.78,633.66 458.11,633.58 459.44,633.49 460.77,633.39 462.1,633.28 463.43,633.15 464.76,633 466.09,632.83 467.42,632.64 468.75,632.43 470.08,632.18 471.41,631.9 472.74,631.58 474.07,631.22 475.4,630.82 476.73,630.36 478.06,629.85 479.4,629.28 480.73,628.63 482.06,627.92 483.39,627.12 484.72,626.23 486.05,625.25 487.38,624.18 488.71,623 490.04,621.72 491.37,620.33 492.7,618.84 494.03,617.24 495.36,615.54 496.69,613.76 498.02,611.89 499.35,609.95 500.68,607.96 502.02,605.93 503.35,603.88 504.68,601.82 506.01,599.79 507.34,597.78 508.67,595.83 510,593.94 511.33,592.13 512.66,590.4 513.99,588.78 515.32,587.26 516.65,585.84 517.98,584.53 519.31,583.32 520.64,582.21 521.97,581.21 523.3,580.3 524.64,579.47 525.97,578.73 527.3,578.07 528.63,577.48 529.96,576.95 531.29,576.47 532.62,576.06 533.95,575.69 535.28,575.36 536.61,575.07 537.94,574.81 539.27,574.59 540.6,574.39 541.93,574.21 543.26,574.06 544.59,573.92" fill="none" stroke="#3f6cf2" stroke-width="1.25" stroke-linejoin="round"/>
<polyline points="384.92,634.2 386.25,634.2 387.59,634.2 388.92,634.2 390.25,634.2 391.58,634.2 392.91,634.2 394.24,634.2 395.57,634.2 396.9,634.2 398.23,634.2 399.56,634.2 400.89,634.19 402.22,634.19 403.55,634.19 404.88,634.19 406.21,634.19 407.54,634.19 408.87,634.19 410.21,634.19 411.54,634.18 412.87,634.18 414.2,634.18 415.53,634.18 416.86,634.17 418.19,634.17 419.52,634.17 420.85,634.16 422.18,634.15 423.51,634.15 424.84,634.14 426.17,634.13 427.5,634.12 428.83,634.11 430.16,634.1 431.49,634.08 432.82,634.07 434.16,634.05 435.49,634.03 436.82,634 438.15,633.97 439.48,633.94 440.81,633.9 442.14,633.86 443.47,633.81 444.8,633.76 446.13,633.7 447.46,633.62 448.79,633.54 450.12,633.45 451.45,633.34 452.78,633.22 454.11,633.08 455.44,632.92 456.78,632.75 458.11,632.54 459.44,632.31 460.77,632.05 462.1,631.75 463.43,631.42 464.76,631.04 466.09,630.61 467.42,630.13 468.75,629.59 470.08,628.99 471.41,628.31 472.74,627.56 474.07,626.73 475.4,625.81 476.73,624.79 478.06,623.68 479.4,622.47 480.73,621.15 482.06,619.73 483.39,618.21 484.72,616.59 486.05,614.89 487.38,613.1 488.71,611.24 490.04,609.32 491.37,607.36 492.7,605.38 494.03,603.38 495.36,601.4 496.69,599.45 498.02,597.54 499.35,595.69 500.68,593.91 502.02,592.21 503.35,590.61 504.68,589.1 506.01,587.7 507.34,586.4 508.67,585.2 510,584.1 511.33,583.1 512.66,582.19 513.99,581.37 515.32,580.63 516.65,579.96 517.98,579.37 519.31,578.84 520.64,578.37 521.97,577.95 523.3,577.58 524.64,577.25 525.97,576.95 527.3,576.7 528.63,576.47 529.96,576.27 531.29,576.1 532.62,575.94 533.95,575.81 535.28,575.69 536.61,575.58 537.94,575.49 539.27,575.41 540.6,575.34 541.93,575.28 543.26,575.22 544.59,575.18" fill="none" stroke="#ea4f33" stroke-width="1.25" stroke-linejoin="round"/>
<polyline points="430.54,632.91 431.87,632.9 433.21,632.89 434.54,632.88 435.87,632.87 437.2,632.86 438.53,632.85 439.86,632.83 441.19,632.81 442.52,632.79 443.85,632.77 445.18,632.74 446.51,632.71 447.84,632.67 449.17,632.63 450.5,632.58 451.83,632.53 453.16,632.46 454.49,632.39 455.83,632.31 457.16,632.21 458.49,632.1 459.82,631.97 461.15,631.83 462.48,631.66 463.81,631.47 465.14,631.25 466.47,631 467.8,630.71 469.13,630.39 470.46,630.02 471.79,629.6 473.12,629.12 474.45,628.58 475.78,627.97 477.11,627.29 478.44,626.52 479.78,625.66 481.11,624.7 482.44,623.63 483.77,622.45 485.1,621.16 486.43,619.75 487.76,618.22 489.09,616.56 490.42,614.8 491.75,612.92 493.08,610.94 494.41,608.88 495.74,606.75 497.07,604.57 498.4,602.35 499.73,600.13 501.06,597.92 502.4,595.74 503.73,593.62 505.06,591.56 506.39,589.6 507.72,587.74 509.05,585.99 510.38,584.35 511.71,582.84 513.04,581.44 514.37,580.17 515.7,579.01 517.03,577.96 518.36,577.01 519.69,576.16 521.02,575.4 522.35,574.73 523.68,574.13 525.02,573.6 526.35,573.13 527.68,572.72 529.01,572.36 530.34,572.04 531.67,571.76 533,571.51 534.33,571.3 535.66,571.11 536.99,570.95 538.32,570.81 539.65,570.68 540.98,570.57 542.31,570.48 543.64,570.4 544.97,570.32 546.3,570.26 547.64,570.21 548.97,570.16 550.3,570.12 551.63,570.08 552.96,570.05 554.29,570.02 555.62,570 556.95,569.98 558.28,569.96 559.61,569.95 560.94,569.93 562.27,569.92 563.6,569.91 564.93,569.9 566.26,569.9 567.59,569.89 568.92,569.88 570.26,569.88 571.59,569.87 572.92,569.87 574.25,569.87 575.58,569.86 576.91,569.86 578.24,569.86 579.57,569.86 580.9,569.86 582.23,569.85 583.56,569.85 584.89,569.85 586.22,569.85 587.55,569.85 588.88,569.85 590.21,569.85" fill="none" stroke="#111" stroke-width="1.25" stroke-linejoin="round"/>
<line x1="384.92" y1="627.95" x2="384.92" y2="632.95" stroke="#3f6cf2" stroke-width="1.2" />
<line x1="381.62" y1="627.95" x2="388.22" y2="627.95" stroke="#3f6cf2" stroke-width="1.2" />
<line x1="381.62" y1="632.95" x2="388.22" y2="632.95" stroke="#3f6cf2" stroke-width="1.2" />
<polygon points="384.92,633.7 388.17,628.01 381.67,628.01" fill="#3f6cf2"/>
<polygon points="407.73,636.2 410.98,630.51 404.48,630.51" fill="#3f6cf2"/>
<polygon points="430.54,639.95 433.79,634.26 427.29,634.26" fill="#3f6cf2"/>
<polygon points="453.35,638.07 456.6,632.39 450.1,632.39" fill="#3f6cf2"/>
<polygon points="476.16,636.2 479.41,630.51 472.91,630.51" fill="#3f6cf2"/>
<polygon points="498.97,609.96 502.22,604.27 495.72,604.27" fill="#3f6cf2"/>
<line x1="521.78" y1="581.72" x2="521.78" y2="587.96" stroke="#3f6cf2" stroke-width="1.2" />
<line x1="518.48" y1="581.72" x2="525.08" y2="581.72" stroke="#3f6cf2" stroke-width="1.2" />
<line x1="518.48" y1="587.96" x2="525.08" y2="587.96" stroke="#3f6cf2" stroke-width="1.2" />
<polygon points="521.78,588.09 525.03,582.4 518.53,582.4" fill="#3f6cf2"/>
<line x1="544.59" y1="570.47" x2="544.59" y2="576.72" stroke="#3f6cf2" stroke-width="1.2" />
<line x1="541.29" y1="570.47" x2="547.89" y2="570.47" stroke="#3f6cf2" stroke-width="1.2" />
<line x1="541.29" y1="576.72" x2="547.89" y2="576.72" stroke="#3f6cf2" stroke-width="1.2" />
<polygon points="544.59,576.84 547.84,571.16 541.34,571.16" fill="#3f6cf2"/>
<line x1="384.92" y1="631.7" x2="384.92" y2="637.95" stroke="#ea4f33" stroke-width="1.2" />
<line x1="381.62" y1="631.7" x2="388.22" y2="631.7" stroke="#ea4f33" stroke-width="1.2" />
<line x1="381.62" y1="637.95" x2="388.22" y2="637.95" stroke="#ea4f33" stroke-width="1.2" />
<polygon points="384.92,631.57 388.17,637.26 381.67,637.26" fill="#ea4f33"/>
<line x1="407.73" y1="630.45" x2="407.73" y2="635.45" stroke="#ea4f33" stroke-width="1.2" />
<line x1="404.43" y1="630.45" x2="411.03" y2="630.45" stroke="#ea4f33" stroke-width="1.2" />
<line x1="404.43" y1="635.45" x2="411.03" y2="635.45" stroke="#ea4f33" stroke-width="1.2" />
<polygon points="407.73,629.7 410.98,635.39 404.48,635.39" fill="#ea4f33"/>
<line x1="430.54" y1="633.58" x2="430.54" y2="638.57" stroke="#ea4f33" stroke-width="1.2" />
<line x1="427.24" y1="633.58" x2="433.84" y2="633.58" stroke="#ea4f33" stroke-width="1.2" />
<line x1="427.24" y1="638.57" x2="433.84" y2="638.57" stroke="#ea4f33" stroke-width="1.2" />
<polygon points="430.54,632.82 433.79,638.51 427.29,638.51" fill="#ea4f33"/>
<polygon points="453.35,631.57 456.6,637.26 450.1,637.26" fill="#ea4f33"/>
<line x1="498.97" y1="591.4" x2="498.97" y2="597.65" stroke="#ea4f33" stroke-width="1.2" />
<line x1="495.67" y1="591.4" x2="502.27" y2="591.4" stroke="#ea4f33" stroke-width="1.2" />
<line x1="495.67" y1="597.65" x2="502.27" y2="597.65" stroke="#ea4f33" stroke-width="1.2" />
<polygon points="498.97,591.28 502.22,596.96 495.72,596.96" fill="#ea4f33"/>
<line x1="521.78" y1="581.09" x2="521.78" y2="584.84" stroke="#ea4f33" stroke-width="1.2" />
<line x1="518.48" y1="581.09" x2="525.08" y2="581.09" stroke="#ea4f33" stroke-width="1.2" />
<line x1="518.48" y1="584.84" x2="525.08" y2="584.84" stroke="#ea4f33" stroke-width="1.2" />
<polygon points="521.78,579.72 525.03,585.4 518.53,585.4" fill="#ea4f33"/>
<polygon points="544.59,572.22 547.84,577.91 541.34,577.91" fill="#ea4f33"/>
<circle cx="430.54" cy="642.13" r="2.9" fill="#111"/>
<circle cx="453.35" cy="631.2" r="2.9" fill="#111"/>
<circle cx="476.16" cy="630.76" r="2.9" fill="#111"/>
<line x1="498.97" y1="599.84" x2="498.97" y2="603.58" stroke="#111" stroke-width="1.2" />
<line x1="495.67" y1="599.84" x2="502.27" y2="599.84" stroke="#111" stroke-width="1.2" />
<line x1="495.67" y1="603.58" x2="502.27" y2="603.58" stroke="#111" stroke-width="1.2" />
<circle cx="498.97" cy="601.71" r="2.9" fill="#111"/>
<line x1="521.78" y1="572.97" x2="521.78" y2="585.47" stroke="#111" stroke-width="1.2" />
<line x1="518.48" y1="572.97" x2="525.08" y2="572.97" stroke="#111" stroke-width="1.2" />
<line x1="518.48" y1="585.47" x2="525.08" y2="585.47" stroke="#111" stroke-width="1.2" />
<circle cx="521.78" cy="579.22" r="2.9" fill="#111"/>
<circle cx="544.59" cy="572.34" r="2.9" fill="#111"/>
<line x1="567.4" y1="566.85" x2="567.4" y2="573.09" stroke="#111" stroke-width="1.2" />
<line x1="564.1" y1="566.85" x2="570.7" y2="566.85" stroke="#111" stroke-width="1.2" />
<line x1="564.1" y1="573.09" x2="570.7" y2="573.09" stroke="#111" stroke-width="1.2" />
<circle cx="567.4" cy="569.97" r="2.9" fill="#111"/>
<line x1="590.21" y1="563.91" x2="590.21" y2="569.53" stroke="#111" stroke-width="1.2" />
<line x1="586.91" y1="563.91" x2="593.51" y2="563.91" stroke="#111" stroke-width="1.2" />
<line x1="586.91" y1="569.53" x2="593.51" y2="569.53" stroke="#111" stroke-width="1.2" />
<circle cx="590.21" cy="566.72" r="2.9" fill="#111"/>
<line x1="385.3" y1="585.8" x2="402.5" y2="585.8" stroke="#3f6cf2" stroke-width="1.2" />
<polygon points="394,588.4 397,583.15 391,583.15" fill="#3f6cf2"/>
<text x="407.8" y="589.5" font-size="10.5" text-anchor="start" font-weight="normal" fill="#1e1e1e" >OX-B</text>
<line x1="385.3" y1="572.9" x2="402.5" y2="572.9" stroke="#ea4f33" stroke-width="1.2" />
<polygon points="394,570.3 397,575.55 391,575.55" fill="#ea4f33"/>
<text x="407.8" y="576.6" font-size="10.5" text-anchor="start" font-weight="normal" fill="#1e1e1e" >OX-A</text>
<line x1="385.3" y1="559.2" x2="402.5" y2="559.2" stroke="#111" stroke-width="1.2" />
<circle cx="394" cy="559.2" r="2.6" fill="#111"/>
<text x="407.8" y="562.9" font-size="10.5" text-anchor="start" font-weight="normal" fill="#1e1e1e" >TAK-861</text>
<text x="31.6" y="41.9" font-size="9.5" text-anchor="end" fill="#3c3c3c">H<tspan font-size="6.6" dy="1.8">3</tspan><tspan dy="-1.8">C</tspan></text>
<text x="10" y="56.9" font-size="9.5" text-anchor="start" fill="#3c3c3c">HO</text>
<text x="32" y="66.5" font-size="9.5" text-anchor="end" fill="#3c3c3c">H<tspan font-size="6.6" dy="1.8">3</tspan><tspan dy="-1.8">C</tspan></text>
<line x1="31.9" y1="50.6" x2="29.8" y2="43.4" stroke="#3c3c3c" stroke-width="1.0" stroke-linecap="round"/>
<line x1="24.2" y1="52.9" x2="31.9" y2="50.6" stroke="#3c3c3c" stroke-width="1.0" stroke-linecap="round"/>
<line x1="31.9" y1="50.6" x2="30.9" y2="58.6" stroke="#3c3c3c" stroke-width="1.0" stroke-linecap="round"/>
<line x1="31.9" y1="50.6" x2="45.4" y2="53.3" stroke="#3c3c3c" stroke-width="1.0" stroke-linecap="round"/>
<line x1="45.4" y1="53.3" x2="50.6" y2="46.9" stroke="#3c3c3c" stroke-width="1.0" stroke-linecap="round"/>
<line x1="43.6" y1="51.9" x2="48.8" y2="45.6" stroke="#3c3c3c" stroke-width="1.0" stroke-linecap="round"/>
<text x="53.6" y="46.8" font-size="9.5" text-anchor="middle" fill="#3c3c3c">O</text>
<line x1="45.4" y1="53.3" x2="48.2" y2="61.6" stroke="#3c3c3c" stroke-width="1.0" stroke-linecap="round"/>
<text x="49.8" y="68.5" font-size="9.5" text-anchor="middle" fill="#3c3c3c">N</text>
<line x1="53" y1="66.4" x2="62.4" y2="67.9" stroke="#3c3c3c" stroke-width="1.0" stroke-linecap="round"/>
<line x1="62.4" y1="67.9" x2="62.4" y2="82.9" stroke="#3c3c3c" stroke-width="1.0" stroke-linecap="round"/>
<line x1="62.4" y1="82.9" x2="49.3" y2="85.7" stroke="#3c3c3c" stroke-width="1.0" stroke-linecap="round"/>
<line x1="49.3" y1="85.7" x2="42.6" y2="75.6" stroke="#3c3c3c" stroke-width="1.0" stroke-linecap="round"/>
<line x1="42.6" y1="75.6" x2="47.4" y2="69.3" stroke="#3c3c3c" stroke-width="1.0" stroke-linecap="round"/>
<line x1="61.91" y1="67.07" x2="62.86" y2="67.06" stroke="#3c3c3c" stroke-width="0.9" />
<line x1="61.71" y1="65.4" x2="63.02" y2="65.38" stroke="#3c3c3c" stroke-width="0.9" />
<line x1="61.51" y1="63.72" x2="63.17" y2="63.7" stroke="#3c3c3c" stroke-width="0.9" />
<line x1="61.3" y1="62.05" x2="63.32" y2="62.02" stroke="#3c3c3c" stroke-width="0.9" />
<text x="61.9" y="60" font-size="9.5" text-anchor="middle" fill="#3c3c3c">H</text>
<polygon points="62.4,67.9 72.3,63.09 70.9,60.91" fill="#3c3c3c"/>
<line x1="71.6" y1="62" x2="83.9" y2="67" stroke="#3c3c3c" stroke-width="1.0" stroke-linecap="round"/>
<polygon points="62.4,82.9 69.35,86.82 70.25,84.38" fill="#3c3c3c"/>
<text x="70.4" y="90.7" font-size="9.5" text-anchor="start" fill="#3c3c3c">NH</text>
<line x1="62.87" y1="83.74" x2="61.93" y2="83.74" stroke="#3c3c3c" stroke-width="0.9" />
<line x1="63.05" y1="85.41" x2="61.75" y2="85.41" stroke="#3c3c3c" stroke-width="0.9" />
<line x1="63.23" y1="87.09" x2="61.57" y2="87.09" stroke="#3c3c3c" stroke-width="0.9" />
<line x1="63.41" y1="88.76" x2="61.39" y2="88.76" stroke="#3c3c3c" stroke-width="0.9" />
<text x="61.9" y="97.6" font-size="9.5" text-anchor="middle" fill="#3c3c3c">H</text>
<line x1="49.3" y1="85.7" x2="43.9" y2="90.7" stroke="#3c3c3c" stroke-width="1.0" stroke-linecap="round"/>
<text x="40.4" y="97.9" font-size="9.5" text-anchor="middle" fill="#3c3c3c">F</text>
<line x1="49.3" y1="85.7" x2="49.6" y2="94.6" stroke="#3c3c3c" stroke-width="1.0" stroke-linecap="round"/>
<text x="49.8" y="101.8" font-size="9.5" text-anchor="middle" fill="#3c3c3c">F</text>
<line x1="73.4" y1="91.8" x2="73.4" y2="98.8" stroke="#3c3c3c" stroke-width="1.0" stroke-linecap="round"/>
<text x="73.4" y="106.5" font-size="9.5" text-anchor="middle" fill="#3c3c3c">S</text>
<line x1="64.6" y1="103.6" x2="69.6" y2="102.4" stroke="#3c3c3c" stroke-width="1.0" stroke-linecap="round"/>
<line x1="64.8" y1="106.1" x2="69.8" y2="104.9" stroke="#3c3c3c" stroke-width="1.0" stroke-linecap="round"/>
<text x="61.1" y="109.9" font-size="9.5" text-anchor="middle" fill="#3c3c3c">O</text>
<line x1="71.1" y1="107.2" x2="70.1" y2="111.9" stroke="#3c3c3c" stroke-width="1.0" stroke-linecap="round"/>
<line x1="73.6" y1="107.4" x2="72.6" y2="112.1" stroke="#3c3c3c" stroke-width="1.0" stroke-linecap="round"/>
<text x="70.1" y="119" font-size="9.5" text-anchor="middle" fill="#3c3c3c">O</text>
<line x1="76.6" y1="104.4" x2="85.7" y2="109.6" stroke="#3c3c3c" stroke-width="1.0" stroke-linecap="round"/>
<line x1="85.7" y1="109.6" x2="85.7" y2="118.4" stroke="#3c3c3c" stroke-width="1.0" stroke-linecap="round"/>
<text x="81.6" y="125.4" font-size="9.5" text-anchor="start" fill="#3c3c3c">CH<tspan font-size="6.6" dy="1.8">3</tspan></text>
<line x1="93.8" y1="59.02" x2="105.79" y2="63.77" stroke="#3c3c3c" stroke-width="1.0" stroke-linecap="round"/>
<line x1="105.79" y1="63.77" x2="107.67" y2="76.53" stroke="#3c3c3c" stroke-width="1.0" stroke-linecap="round"/>
<line x1="107.67" y1="76.53" x2="97.56" y2="84.54" stroke="#3c3c3c" stroke-width="1.0" stroke-linecap="round"/>
<line x1="97.56" y1="84.54" x2="85.57" y2="79.79" stroke="#3c3c3c" stroke-width="1.0" stroke-linecap="round"/>
<line x1="85.57" y1="79.79" x2="83.69" y2="67.03" stroke="#3c3c3c" stroke-width="1.0" stroke-linecap="round"/>
<line x1="83.69" y1="67.03" x2="93.8" y2="59.02" stroke="#3c3c3c" stroke-width="1.0" stroke-linecap="round"/>
<line x1="95.11" y1="62.01" x2="102.78" y2="65.05" stroke="#3c3c3c" stroke-width="1.0" stroke-linecap="round"/>
<line x1="104.43" y1="76.17" x2="97.96" y2="81.3" stroke="#3c3c3c" stroke-width="1.0" stroke-linecap="round"/>
<line x1="87.51" y1="77.16" x2="86.3" y2="68.99" stroke="#3c3c3c" stroke-width="1.0" stroke-linecap="round"/>
<line x1="93.8" y1="59.02" x2="93.2" y2="51.4" stroke="#3c3c3c" stroke-width="1.0" stroke-linecap="round"/>
<text x="92.4" y="49.9" font-size="9.5" text-anchor="middle" fill="#3c3c3c">F</text>
<line x1="124.79" y1="36.11" x2="136.47" y2="40.97" stroke="#3c3c3c" stroke-width="1.0" stroke-linecap="round"/>
<line x1="136.47" y1="40.97" x2="138.1" y2="53.51" stroke="#3c3c3c" stroke-width="1.0" stroke-linecap="round"/>
<line x1="138.1" y1="53.51" x2="128.05" y2="61.19" stroke="#3c3c3c" stroke-width="1.0" stroke-linecap="round"/>
<line x1="128.05" y1="61.19" x2="116.37" y2="56.33" stroke="#3c3c3c" stroke-width="1.0" stroke-linecap="round"/>
<line x1="116.37" y1="56.33" x2="114.74" y2="43.79" stroke="#3c3c3c" stroke-width="1.0" stroke-linecap="round"/>
<line x1="114.74" y1="43.79" x2="124.79" y2="36.11" stroke="#3c3c3c" stroke-width="1.0" stroke-linecap="round"/>
<line x1="126.01" y1="39.1" x2="133.48" y2="42.22" stroke="#3c3c3c" stroke-width="1.0" stroke-linecap="round"/>
<line x1="134.89" y1="53.07" x2="128.46" y2="57.98" stroke="#3c3c3c" stroke-width="1.0" stroke-linecap="round"/>
<line x1="118.36" y1="53.78" x2="117.32" y2="45.75" stroke="#3c3c3c" stroke-width="1.0" stroke-linecap="round"/>
<line x1="105.79" y1="63.77" x2="116.37" y2="56.33" stroke="#3c3c3c" stroke-width="1.0" stroke-linecap="round"/>
<line x1="124.79" y1="36.11" x2="124.2" y2="28.6" stroke="#3c3c3c" stroke-width="1.0" stroke-linecap="round"/>
<text x="123.4" y="26.9" font-size="9.5" text-anchor="middle" fill="#3c3c3c">F</text>
<line x1="138.1" y1="53.51" x2="145.4" y2="57" stroke="#3c3c3c" stroke-width="1.0" stroke-linecap="round"/>
<text x="149.9" y="62.7" font-size="9.5" text-anchor="middle" fill="#3c3c3c">F</text>
<polygon points="3.8,250.7 5.8,250.76 7.8,250.83 9.8,250.89 11.8,250.96 13.8,251.03 15.8,251.09 17.8,251.44 19.8,251.83 21.8,252.21 23.8,252.59 25.8,252.82 27.8,252.8 29.8,252.78 31.8,252.77 33.8,252.75 35.8,252.7 37.8,252.59 39.8,252.48 41.8,252.37 43.8,252.26 45.8,252.15 47.8,252.04 49.8,251.93 51.8,251.81 53.8,251.68 55.8,251.56 57.8,251.44 59.8,251.31 61.8,251.19 63.8,251.07 65.8,250.89 67.8,250.62 69.8,250.35 71.8,250.09 73.8,249.82 75.8,249.55 77.8,249.43 79.8,249.52 81.8,249.61 83.8,249.7 85.8,249.79 87.8,249.88 89.8,249.97 91.8,249.84 93.8,249.69 95.8,249.53 97.8,249.37 99.8,249.22 101.8,249.38 103.8,249.59 105.8,249.6 107.8,249.32 109.8,249.05 111.8,248.77 113.8,248.5 115.8,248.16 117.8,247.75 119.8,247.34 121.8,246.93 123.8,246.02 125.8,245.07 127.8,244.11 129.8,243.16 131.8,242.49 133.8,241.85 135.8,241.55 137.8,241.76 139.8,241.96 141.8,242.16 143.8,242.37 145.8,242.51 147.8,242.55 149.8,242.6 151.8,242.66 153.8,242.73 155.8,242.61 157.8,242.19 159.8,241.78 161.8,241.37 163.8,240.96 165.8,240.67 167.8,240.58 169.8,240.49 171.8,240.4 173.8,240.31 175.8,240.15 177.8,239.9 179.8,239.65 181.8,239.39 183.8,239.14 185.8,238.83 187.8,238.44 189.8,238.05 191.8,237.66 193.8,237.27 195.8,236.87 197.8,236.45 199.8,236.04 201.8,235.76 203.8,235.5 205.8,235.23 207.8,234.97 209.8,234.7 211.8,234.63 213.8,234.59 215.8,234.54 217.8,234.5 219.8,234.45 221.8,234.32 223.8,234.17 225.8,234.03 227.8,233.88 229.8,233.74 231.8,233.59 233.8,233.45 235.8,233.3 237.8,233.16 239.8,233.01 241.8,232.9 243.8,232.78 245.8,232.66 247.8,232.55 249.8,232.43 251.8,232.52 253.8,232.62 255.8,232.73 257.8,232.83 259.8,232.93 261.8,233.16 263.8,233.41 265.8,233.65 267.8,233.9 269.8,234.14 271.8,234.4 273.8,234.67 275.8,234.93 277.8,235.2 279.8,235.46 281.8,235.82 283.8,236.18 283.8,247.04 281.8,246.94 279.8,246.85 277.8,246.75 275.8,246.65 273.8,246.56 271.8,246.46 269.8,246.36 267.8,246.26 265.8,246.17 263.8,246.07 261.8,245.97 259.8,245.88 257.8,245.78 255.8,245.68 253.8,245.58 251.8,245.49 249.8,245.41 247.8,245.48 245.8,245.55 243.8,245.63 241.8,245.7 239.8,245.77 237.8,245.85 235.8,245.92 233.8,245.99 231.8,246.07 229.8,246.14 227.8,246.21 225.8,246.29 223.8,246.36 221.8,246.43 219.8,246.53 217.8,246.78 215.8,247.04 213.8,247.29 211.8,247.55 209.8,247.81 207.8,248.06 205.8,248.32 203.8,248.57 201.8,248.83 199.8,249.09 197.8,249.34 195.8,249.6 193.8,249.82 191.8,250.01 189.8,250.2 187.8,250.39 185.8,250.58 183.8,250.78 181.8,250.97 179.8,251.16 177.8,251.35 175.8,251.54 173.8,251.74 171.8,251.93 169.8,252.11 167.8,252.23 165.8,252.35 163.8,252.47 161.8,252.59 159.8,252.71 157.8,252.83 155.8,252.95 153.8,253.07 151.8,253.19 149.8,253.32 147.8,253.51 145.8,253.69 143.8,253.88 141.8,254.07 139.8,254.25 137.8,254.44 135.8,254.63 133.8,254.92 131.8,255.3 129.8,255.67 127.8,256.04 125.8,256.42 123.8,256.79 121.8,257.16 119.8,257.52 117.8,257.72 115.8,257.92 113.8,258.12 111.8,258.32 109.8,258.52 107.8,258.72 105.8,258.92 103.8,259.12 101.8,259.32 99.8,259.52 97.8,259.72 95.8,259.92 93.8,260.06 91.8,260.16 89.8,260.27 87.8,260.37 85.8,260.47 83.8,260.58 81.8,260.68 79.8,260.78 77.8,260.88 75.8,260.99 73.8,261.09 71.8,261.19 69.8,261.3 67.8,261.4 65.8,261.5 63.8,261.6 61.8,261.71 59.8,261.8 57.8,261.78 55.8,261.76 53.8,261.74 51.8,261.73 49.8,261.71 47.8,261.69 45.8,261.67 43.8,261.66 41.8,261.64 39.8,261.62 37.8,261.6 35.8,261.58 33.8,261.57 31.8,261.55 29.8,261.53 27.8,261.51 25.8,261.49 23.8,261.48 21.8,261.46 19.8,261.44 17.8,261.42 15.8,261.41 13.8,261.39 11.8,261.37 9.8,261.35 7.8,261.33 5.8,261.32 3.8,261.3" fill="#d4d4d4"/>
<g shape-rendering="auto"><rect x="3.8" y="250.7" width="1.2" height="13.93" fill="#e4e4e4"/><rect x="5" y="250.73" width="0.8" height="8.02" fill="#bebebe"/><rect x="5.8" y="250.76" width="0.8" height="11.13" fill="#aeaeae"/><rect x="6.6" y="250.79" width="0.8" height="10.59" fill="#d6d6d6"/><rect x="7.4" y="250.81" width="1.8" height="13.85" fill="#707070"/><rect x="9.2" y="250.87" width="0.8" height="8.88" fill="#e4e4e4"/><rect x="10" y="250.9" width="1.8" height="11.13" fill="#b4b4b4"/><rect x="11.8" y="250.96" width="1.8" height="10.15" fill="#989898"/><rect x="13.6" y="251.02" width="0.8" height="12.47" fill="#828282"/><rect x="14.4" y="251.05" width="1.2" height="12.14" fill="#acacac"/><rect x="15.6" y="251.09" width="1.2" height="11.58" fill="#a3a3a3"/><rect x="16.8" y="251.25" width="1.8" height="11.42" fill="#939393"/><rect x="18.6" y="251.6" width="1.2" height="12.47" fill="#bcbcbc"/><rect x="19.8" y="251.83" width="1.5" height="10.44" fill="#a9a9a9"/><rect x="21.3" y="252.12" width="1.5" height="10.99" fill="#d2d2d2"/><rect x="22.8" y="252.4" width="1.2" height="10.45" fill="#c0c0c0"/><rect x="24" y="252.63" width="1.5" height="11" fill="#d7d7d7"/><rect x="25.5" y="252.82" width="1.5" height="6.28" fill="#707070"/><rect x="27" y="252.81" width="1.2" height="11.07" fill="#b8b8b8"/><rect x="28.2" y="252.8" width="1.5" height="11.86" fill="#929292"/><rect x="29.7" y="252.79" width="1.5" height="10.18" fill="#949494"/><rect x="31.2" y="252.77" width="1.2" height="5.92" fill="#acacac"/><rect x="32.4" y="252.76" width="1.5" height="9.35" fill="#707070"/><rect x="33.9" y="252.75" width="1.5" height="11.88" fill="#969696"/><rect x="35.4" y="252.72" width="1.5" height="12.32" fill="#9a9a9a"/><rect x="36.9" y="252.64" width="0.8" height="6.89" fill="#bcbcbc"/><rect x="37.7" y="252.59" width="1.5" height="8.84" fill="#c5c5c5"/><rect x="39.2" y="252.51" width="1.8" height="11.22" fill="#cdcdcd"/><rect x="41" y="252.41" width="1.8" height="12.56" fill="#a9a9a9"/><rect x="42.8" y="252.31" width="1.8" height="10.89" fill="#868686"/><rect x="44.6" y="252.21" width="0.8" height="11.29" fill="#cfcfcf"/><rect x="45.4" y="252.17" width="1.5" height="10.32" fill="#e4e4e4"/><rect x="46.9" y="252.09" width="0.8" height="10.22" fill="#707070"/><rect x="47.7" y="252.04" width="1.8" height="10.03" fill="#999999"/><rect x="49.5" y="251.94" width="1.8" height="11.27" fill="#d8d8d8"/><rect x="51.3" y="251.84" width="1.5" height="10.58" fill="#9f9f9f"/><rect x="52.8" y="251.74" width="1.5" height="11.83" fill="#cecece"/><rect x="54.3" y="251.65" width="1.2" height="11.93" fill="#d8d8d8"/><rect x="55.5" y="251.58" width="1.8" height="10.56" fill="#999999"/><rect x="57.3" y="251.47" width="1.8" height="13.53" fill="#a8a8a8"/><rect x="59.1" y="251.36" width="1.2" height="13.87" fill="#a3a3a3"/><rect x="60.3" y="251.28" width="1.2" height="13.71" fill="#939393"/><rect x="61.5" y="251.21" width="1" height="12.52" fill="#a0a0a0"/><rect x="62.5" y="251.15" width="1" height="13.41" fill="#c1c1c1"/><rect x="63.5" y="251.08" width="1" height="11.48" fill="#9f9f9f"/><rect x="64.5" y="251.02" width="1.2" height="7.94" fill="#707070"/><rect x="65.7" y="250.9" width="1.2" height="12.34" fill="#e4e4e4"/><rect x="66.9" y="250.74" width="1.2" height="7.38" fill="#a5a5a5"/><rect x="68.1" y="250.58" width="1.2" height="11.76" fill="#e0e0e0"/><rect x="69.3" y="250.42" width="1.5" height="14.11" fill="#858585"/><rect x="70.8" y="250.22" width="0.8" height="10.44" fill="#a6a6a6"/><rect x="71.6" y="250.11" width="1" height="12.78" fill="#959595"/><rect x="72.6" y="249.98" width="0.8" height="14.04" fill="#909090"/><rect x="73.4" y="249.87" width="0.8" height="11.35" fill="#c0c0c0"/><rect x="74.2" y="249.76" width="1" height="13.5" fill="#919191"/><rect x="75.2" y="249.63" width="1.8" height="14.82" fill="#858585"/><rect x="77" y="249.39" width="1.2" height="12.33" fill="#e4e4e4"/><rect x="78.2" y="249.45" width="0.8" height="13.4" fill="#b4b4b4"/><rect x="79" y="249.48" width="1.5" height="9.3" fill="#c3c3c3"/><rect x="80.5" y="249.55" width="1.8" height="12.26" fill="#b0b0b0"/><rect x="82.3" y="249.63" width="1.2" height="13.06" fill="#dfdfdf"/><rect x="83.5" y="249.69" width="1.5" height="13.32" fill="#c0c0c0"/><rect x="85" y="249.76" width="1.8" height="12.4" fill="#828282"/><rect x="86.8" y="249.84" width="1.8" height="12.52" fill="#ababab"/><rect x="88.6" y="249.92" width="1" height="12.66" fill="#b7b7b7"/><rect x="89.6" y="249.97" width="1.8" height="12.93" fill="#bbbbbb"/><rect x="91.4" y="249.87" width="1.2" height="12.79" fill="#717171"/><rect x="92.6" y="249.78" width="1.8" height="8.66" fill="#b2b2b2"/><rect x="94.4" y="249.64" width="0.8" height="12.32" fill="#b0b0b0"/><rect x="95.2" y="249.58" width="1.5" height="11.75" fill="#707070"/><rect x="96.7" y="249.46" width="1.8" height="12.31" fill="#838383"/><rect x="98.5" y="249.32" width="1.5" height="8.16" fill="#b8b8b8"/><rect x="100" y="249.2" width="1.2" height="13.55" fill="#b6b6b6"/><rect x="101.2" y="249.32" width="1.5" height="10.75" fill="#cfcfcf"/><rect x="102.7" y="249.48" width="0.8" height="12.2" fill="#b2b2b2"/><rect x="103.5" y="249.56" width="0.8" height="7.9" fill="#c8c8c8"/><rect x="104.3" y="249.64" width="1.2" height="10.19" fill="#c3c3c3"/><rect x="105.5" y="249.64" width="0.8" height="10.88" fill="#a7a7a7"/><rect x="106.3" y="249.53" width="1" height="10.16" fill="#8d8d8d"/><rect x="107.3" y="249.39" width="1" height="7.35" fill="#a8a8a8"/><rect x="108.3" y="249.25" width="1.2" height="11.49" fill="#cacaca"/><rect x="109.5" y="249.09" width="1.8" height="10.71" fill="#afafaf"/><rect x="111.3" y="248.84" width="0.8" height="12.98" fill="#bbbbbb"/><rect x="112.1" y="248.73" width="1.2" height="10.73" fill="#a9a9a9"/><rect x="113.3" y="248.56" width="1" height="7.08" fill="#e1e1e1"/><rect x="114.3" y="248.43" width="1.2" height="11.24" fill="#8a8a8a"/><rect x="115.5" y="248.23" width="1.8" height="11.85" fill="#b5b5b5"/><rect x="117.3" y="247.85" width="1" height="5.82" fill="#b2b2b2"/><rect x="118.3" y="247.65" width="0.8" height="7.46" fill="#e4e4e4"/><rect x="119.1" y="247.48" width="1.5" height="10.44" fill="#c7c7c7"/><rect x="120.6" y="247.17" width="1.5" height="13.48" fill="#c8c8c8"/><rect x="122.1" y="246.84" width="1" height="13.57" fill="#cacaca"/><rect x="123.1" y="246.36" width="1.2" height="7.78" fill="#989898"/><rect x="124.3" y="245.78" width="1.2" height="12.64" fill="#e2e2e2"/><rect x="125.5" y="245.21" width="1.2" height="9.67" fill="#e3e3e3"/><rect x="126.7" y="244.64" width="1.8" height="15.04" fill="#b1b1b1"/><rect x="128.5" y="243.78" width="1" height="10.15" fill="#878787"/><rect x="129.5" y="243.3" width="1.5" height="15.83" fill="#bcbcbc"/><rect x="131" y="242.74" width="1" height="16.15" fill="#c6c6c6"/><rect x="132" y="242.42" width="1" height="14.43" fill="#7d7d7d"/><rect x="133" y="242.11" width="0.8" height="11.44" fill="#c6c6c6"/><rect x="133.8" y="241.85" width="0.8" height="13.64" fill="#939393"/><rect x="134.6" y="241.6" width="1.8" height="15.62" fill="#adadad"/><rect x="136.4" y="241.61" width="1.5" height="13.85" fill="#c8c8c8"/><rect x="137.9" y="241.77" width="0.8" height="13.81" fill="#d6d6d6"/><rect x="138.7" y="241.85" width="1" height="12.92" fill="#a4a4a4"/><rect x="139.7" y="241.95" width="1" height="10.23" fill="#848484"/><rect x="140.7" y="242.05" width="1" height="13.21" fill="#b2b2b2"/><rect x="141.7" y="242.15" width="0.8" height="9.47" fill="#b3b3b3"/><rect x="142.5" y="242.24" width="1.2" height="8.25" fill="#adadad"/><rect x="143.7" y="242.36" width="1" height="13.93" fill="#c4c4c4"/><rect x="144.7" y="242.46" width="1.2" height="13.94" fill="#949494"/><rect x="145.9" y="242.51" width="1.2" height="13.79" fill="#e4e4e4"/><rect x="147.1" y="242.54" width="1.8" height="13.34" fill="#bdbdbd"/><rect x="148.9" y="242.58" width="1.8" height="11.57" fill="#707070"/><rect x="150.7" y="242.62" width="0.8" height="13.58" fill="#aaaaaa"/><rect x="151.5" y="242.65" width="1" height="6.58" fill="#cbcbcb"/><rect x="152.5" y="242.69" width="1.5" height="12.55" fill="#a3a3a3"/><rect x="154" y="242.74" width="1.8" height="12.8" fill="#e4e4e4"/><rect x="155.8" y="242.61" width="1.8" height="9.42" fill="#adadad"/><rect x="157.6" y="242.23" width="1.5" height="8.65" fill="#a9a9a9"/><rect x="159.1" y="241.93" width="1.5" height="12.71" fill="#959595"/><rect x="160.6" y="241.62" width="1.5" height="14.26" fill="#dadada"/><rect x="162.1" y="241.31" width="1" height="8.8" fill="#b9b9b9"/><rect x="163.1" y="241.1" width="1.2" height="9.77" fill="#707070"/><rect x="164.3" y="240.85" width="0.8" height="14.1" fill="#b4b4b4"/><rect x="165.1" y="240.71" width="1.2" height="14.26" fill="#737373"/><rect x="166.3" y="240.65" width="1.8" height="12.61" fill="#b8b8b8"/><rect x="168.1" y="240.57" width="1.5" height="12" fill="#d1d1d1"/><rect x="169.6" y="240.5" width="1.5" height="15.11" fill="#707070"/><rect x="171.1" y="240.43" width="1" height="7.11" fill="#a9a9a9"/><rect x="172.1" y="240.38" width="1.8" height="14.44" fill="#cccccc"/><rect x="173.9" y="240.3" width="0.8" height="8.38" fill="#a4a4a4"/><rect x="174.7" y="240.26" width="0.8" height="14.72" fill="#acacac"/><rect x="175.5" y="240.19" width="1.5" height="9.28" fill="#919191"/><rect x="177" y="240" width="0.8" height="12.77" fill="#e4e4e4"/><rect x="177.8" y="239.9" width="1.5" height="12.14" fill="#9b9b9b"/><rect x="179.3" y="239.71" width="1.2" height="9.05" fill="#707070"/><rect x="180.5" y="239.56" width="1.8" height="12.08" fill="#aeaeae"/><rect x="182.3" y="239.33" width="1.2" height="12.21" fill="#707070"/><rect x="183.5" y="239.18" width="1.2" height="8.07" fill="#909090"/><rect x="184.7" y="239.03" width="1.2" height="14.47" fill="#b7b7b7"/><rect x="185.9" y="238.81" width="0.8" height="14.66" fill="#e4e4e4"/><rect x="186.7" y="238.66" width="1.8" height="7.06" fill="#828282"/><rect x="188.5" y="238.3" width="1.5" height="13.76" fill="#9a9a9a"/><rect x="190" y="238.01" width="0.8" height="15.39" fill="#959595"/><rect x="190.8" y="237.85" width="1" height="14.06" fill="#9b9b9b"/><rect x="191.8" y="237.66" width="1.2" height="10.02" fill="#e1e1e1"/><rect x="193" y="237.42" width="1.5" height="13.15" fill="#cfcfcf"/><rect x="194.5" y="237.13" width="1.5" height="14.68" fill="#bebebe"/><rect x="196" y="236.82" width="1.2" height="16.24" fill="#bababa"/><rect x="197.2" y="236.58" width="0.8" height="13.7" fill="#bdbdbd"/><rect x="198" y="236.41" width="1.2" height="13.97" fill="#707070"/><rect x="199.2" y="236.16" width="1.5" height="14.52" fill="#8d8d8d"/><rect x="200.7" y="235.91" width="1" height="14.57" fill="#c5c5c5"/><rect x="201.7" y="235.77" width="1.2" height="13.77" fill="#b6b6b6"/><rect x="202.9" y="235.62" width="1" height="13.67" fill="#878787"/><rect x="203.9" y="235.48" width="1.5" height="16.43" fill="#cccccc"/><rect x="205.4" y="235.28" width="0.8" height="13.79" fill="#b1b1b1"/><rect x="206.2" y="235.18" width="1.8" height="9.23" fill="#707070"/><rect x="208" y="234.94" width="1.8" height="16.13" fill="#acacac"/><rect x="209.8" y="234.7" width="1" height="13.89" fill="#bcbcbc"/><rect x="210.8" y="234.66" width="0.8" height="16.33" fill="#898989"/><rect x="211.6" y="234.64" width="1.5" height="13.51" fill="#7d7d7d"/><rect x="213.1" y="234.61" width="0.8" height="9.9" fill="#9a9a9a"/><rect x="213.9" y="234.59" width="1" height="15" fill="#959595"/><rect x="214.9" y="234.56" width="1.5" height="12.84" fill="#7f7f7f"/><rect x="216.4" y="234.53" width="1.5" height="13.56" fill="#a5a5a5"/><rect x="217.9" y="234.5" width="0.8" height="12.61" fill="#707070"/><rect x="218.7" y="234.48" width="1" height="11.02" fill="#c1c1c1"/><rect x="219.7" y="234.46" width="1.5" height="14.64" fill="#d3d3d3"/><rect x="221.2" y="234.36" width="1.5" height="8.96" fill="#b1b1b1"/><rect x="222.7" y="234.25" width="1.2" height="9.82" fill="#7e7e7e"/><rect x="223.9" y="234.17" width="1" height="12.51" fill="#c4c4c4"/><rect x="224.9" y="234.09" width="1.8" height="12.74" fill="#bdbdbd"/><rect x="226.7" y="233.96" width="1" height="8.29" fill="#e3e3e3"/><rect x="227.7" y="233.89" width="1.2" height="12.97" fill="#747474"/><rect x="228.9" y="233.8" width="1.5" height="14" fill="#7d7d7d"/><rect x="230.4" y="233.7" width="1.8" height="13.19" fill="#c1c1c1"/><rect x="232.2" y="233.57" width="1" height="14.12" fill="#e4e4e4"/><rect x="233.2" y="233.49" width="1" height="14.08" fill="#d5d5d5"/><rect x="234.2" y="233.42" width="0.8" height="15.84" fill="#878787"/><rect x="235" y="233.36" width="1" height="14.98" fill="#8f8f8f"/><rect x="236" y="233.29" width="1.5" height="15.61" fill="#b1b1b1"/><rect x="237.5" y="233.18" width="1.5" height="10.4" fill="#797979"/><rect x="239" y="233.07" width="0.8" height="14.83" fill="#e4e4e4"/><rect x="239.8" y="233.01" width="1.5" height="14.2" fill="#bbbbbb"/><rect x="241.3" y="232.92" width="0.8" height="11.18" fill="#8b8b8b"/><rect x="242.1" y="232.88" width="1.5" height="13.73" fill="#b2b2b2"/><rect x="243.6" y="232.79" width="1.5" height="13.94" fill="#a6a6a6"/><rect x="245.1" y="232.71" width="1.5" height="11.05" fill="#c2c2c2"/><rect x="246.6" y="232.62" width="0.8" height="16.08" fill="#9f9f9f"/><rect x="247.4" y="232.57" width="1.2" height="14.29" fill="#e2e2e2"/><rect x="248.6" y="232.5" width="1.2" height="16.21" fill="#bbbbbb"/><rect x="249.8" y="232.43" width="1.8" height="16.21" fill="#b3b3b3"/><rect x="251.6" y="232.51" width="1" height="13.62" fill="#a9a9a9"/><rect x="252.6" y="232.56" width="1.5" height="16.32" fill="#ababab"/><rect x="254.1" y="232.64" width="1.5" height="13.69" fill="#d0d0d0"/><rect x="255.6" y="232.71" width="0.8" height="15.83" fill="#c5c5c5"/><rect x="256.4" y="232.76" width="1.8" height="14.01" fill="#777777"/><rect x="258.2" y="232.85" width="1.5" height="14.41" fill="#bfbfbf"/><rect x="259.7" y="232.93" width="1" height="11.9" fill="#b6b6b6"/><rect x="260.7" y="233.03" width="1.8" height="11.23" fill="#b6b6b6"/><rect x="262.5" y="233.25" width="1.8" height="9.33" fill="#b4b4b4"/><rect x="264.3" y="233.47" width="1.5" height="9.64" fill="#bfbfbf"/><rect x="265.8" y="233.65" width="1.8" height="15.52" fill="#9c9c9c"/><rect x="267.6" y="233.87" width="0.8" height="15.18" fill="#a7a7a7"/><rect x="268.4" y="233.97" width="1.2" height="11.99" fill="#c6c6c6"/><rect x="269.6" y="234.12" width="1" height="13.29" fill="#bebebe"/><rect x="270.6" y="234.25" width="0.8" height="13.72" fill="#9f9f9f"/><rect x="271.4" y="234.35" width="1.8" height="14.07" fill="#cacaca"/><rect x="273.2" y="234.59" width="0.8" height="12.56" fill="#c2c2c2"/><rect x="274" y="234.7" width="1" height="14.86" fill="#c7c7c7"/><rect x="275" y="234.83" width="0.8" height="12.25" fill="#b3b3b3"/><rect x="275.8" y="234.93" width="1.8" height="8.59" fill="#c0c0c0"/><rect x="277.6" y="235.17" width="0.8" height="12.21" fill="#d5d5d5"/><rect x="278.4" y="235.28" width="1.8" height="9.56" fill="#e4e4e4"/><rect x="280.2" y="235.53" width="0.8" height="13.56" fill="#d3d3d3"/><rect x="281" y="235.67" width="1" height="14.14" fill="#909090"/><rect x="282" y="235.85" width="1.8" height="7.22" fill="#bdbdbd"/><rect x="283.8" y="236.18" width="1.8" height="12.71" fill="#bababa"/></g>
<polygon points="3.8,246.29 4.4,246.9 5,246.47 5.6,246.97 6.2,246.25 6.8,247.28 7.4,246.26 8,247.23 8.6,246.76 9.2,247.45 9.8,246.53 10.4,246.48 11,246.83 11.6,246.57 12.2,246.61 12.8,246.94 13.4,247.6 14,246.72 14.6,246.74 15.2,246.65 15.8,247.5 16.4,247.65 17,247.8 17.6,248.02 18.2,247.77 18.8,247.26 19.4,248.11 20,248.17 20.6,248.27 21.2,247.88 21.8,248.44 22.4,249.01 23,248.43 23.6,249.28 24.2,248.47 24.8,249.37 25.4,249.2 26,248.87 26.6,249.42 27.2,249.18 27.8,248.7 28.4,248.84 29,248.61 29.6,249.58 30.2,248.94 30.8,249.38 31.4,249.37 32,248.48 32.6,248.84 33.2,249.01 33.8,248.45 34.4,249.51 35,249.26 35.6,249.27 36.2,249.13 36.8,248.35 37.4,249.02 38,248.39 38.6,249.29 39.2,249.18 39.8,249 40.4,248.41 41,248.85 41.6,248.48 42.2,249.15 42.8,248.34 43.4,248.58 44,248.72 44.6,248.4 45.2,248.41 45.8,248.23 46.4,248.32 47,248.16 47.6,247.87 48.2,248.94 48.8,248.38 49.4,248.8 50,248.34 50.6,248.55 51.2,248.09 51.8,247.78 52.4,247.67 53,248.28 53.6,247.86 54.2,247.85 54.8,248.49 55.4,248.49 56,248.28 56.6,247.7 57.2,247.82 57.8,247.34 58.4,247.99 59,247.29 59.6,247.55 60.2,247.8 60.8,247.49 61.4,247.53 62,247.25 62.6,247.99 63.2,247.54 63.8,247.14 64.4,247.26 65,248.06 65.6,247.81 66.2,247.46 66.8,247.4 67.4,247.19 68,246.53 68.6,246.48 69.2,246.57 69.8,246.43 70.4,247.01 71,246.65 71.6,246.85 72.2,246.5 72.8,246.54 73.4,246.6 74,246.64 74.6,246.35 75.2,246.15 75.8,245.65 76.4,245.69 77,245.71 77.6,245.58 78.2,246.57 78.8,245.81 79.4,246.29 80,246.38 80.6,246.76 81.2,246.74 81.8,245.76 82.4,245.89 83,246.73 83.6,245.95 84.2,246.02 84.8,246.54 85.4,246.87 86,247.06 86.6,246.56 87.2,246.59 87.8,246.01 88.4,246.29 89,246.99 89.6,246.78 90.2,246.29 90.8,246.18 91.4,246.2 92,246.8 92.6,246.08 93.2,245.93 93.8,245.89 94.4,246.71 95,246.9 95.6,246.5 96.2,246.57 96.8,246.08 97.4,245.83 98,246.68 98.6,246.4 99.2,246.36 99.8,245.99 100.4,246.38 101,245.83 101.6,245.84 102.2,246.69 102.8,246.54 103.4,246.6 104,246.29 104.6,246.66 105.2,245.81 105.8,245.79 106.4,245.63 107,246.34 107.6,246.07 108.2,245.81 108.8,245.54 109.4,245.16 110,245.11 110.6,245.89 111.2,245.52 111.8,245.33 112.4,244.81 113,245.65 113.6,244.62 114.2,245.25 114.8,245.42 115.4,244.23 116,244.09 116.6,244.9 117.2,244.2 117.8,244.01 118.4,243.94 119,243.49 119.6,243.91 120.2,243.16 120.8,243.7 121.4,242.78 122,243.23 122.6,242.84 123.2,242.39 123.8,242.53 124.4,241.68 125,241.87 125.6,241.41 126.2,241.41 126.8,240.94 127.4,241.07 128,240.32 128.6,239.58 129.2,239.31 129.8,239.89 130.4,239.25 131,238.44 131.6,238.42 132.2,238.18 132.8,238.74 133.4,238.51 134,237.26 134.6,237.56 135.2,238.09 135.8,236.99 136.4,237.9 137,237.35 137.6,237.95 138.2,237.93 138.8,238.01 139.4,238.31 140,238 140.6,237.57 141.2,237.92 141.8,238.28 142.4,237.78 143,238.4 143.6,238.61 144.2,237.66 144.8,238.31 145.4,238.75 146,238.09 146.6,238.7 147.2,237.83 147.8,237.96 148.4,238.84 149,238.12 149.6,238.25 150.2,238.27 150.8,238.65 151.4,238.11 152,238.25 152.6,237.92 153.2,238.82 153.8,238.44 154.4,238 155,237.77 155.6,238.65 156.2,238.22 156.8,237.4 157.4,237.6 158,238.15 158.6,237.99 159.2,236.89 159.8,236.63 160.4,236.64 161,237.12 161.6,236.29 162.2,236.97 162.8,236.32 163.4,236.6 164,236.48 164.6,236.34 165.2,236.13 165.8,236.42 166.4,235.77 167,236.1 167.6,235.88 168.2,235.63 168.8,235.1 169.4,235.13 170,235.36 170.6,235.53 171.2,235.94 171.8,235.17 172.4,235.5 173,234.75 173.6,235.34 174.2,235.59 174.8,235.06 175.4,234.69 176,234.98 176.6,235.07 177.2,234.26 177.8,234.71 178.4,234.31 179,234.12 179.6,234.77 180.2,230.78 180.8,234.09 181.4,235.29 182,232.97 182.6,232.87 183.2,233.78 183.8,233.47 184.4,232.64 185,229.09 185.6,231.82 186.2,232.16 186.8,229.15 187.4,233.78 188,232.16 188.6,231.33 189.2,232.52 189.8,233.51 190.4,230.35 191,231 191.6,233.47 192.2,231.56 192.8,227.39 193.4,229.86 194,231.06 194.6,231.86 195.2,229.77 195.8,230.03 196.4,227.27 197,231.84 197.6,231.21 198.2,226.4 198.8,231.53 199.4,231.12 200,230.59 200.6,230.41 201.2,230.21 201.8,227.31 202.4,229.85 203,229.85 203.6,228.36 204.2,228.4 204.8,229.68 205.4,229.55 206,229.46 206.6,228.54 207.2,228.09 207.8,229.43 208.4,227.82 209,229.39 209.6,227.34 210.2,227.69 210.8,226.56 211.4,228.55 212,227.44 212.6,227.02 213.2,227.9 213.8,228.49 214.4,226.27 215,228.68 215.6,226.81 216.2,226.97 216.8,226.36 217.4,227.78 218,225.84 218.6,225.79 219.2,226.93 219.8,226.83 220.4,226.28 221,227.99 221.6,226.13 222.2,224.34 222.8,226.36 223.4,225.85 224,227.06 224.6,225.07 225.2,226.79 225.8,225.35 226.4,224.91 227,226.68 227.6,224.23 228.2,224.73 228.8,224.41 229.4,225.46 230,222.05 230.6,225.33 231.2,224.42 231.8,221.16 232.4,224.68 233,225.71 233.6,223.01 234.2,223.2 234.8,223.38 235.4,223.44 236,225.47 236.6,220.86 237.2,223.99 237.8,221.67 238.4,222.85 239,223.48 239.6,223.18 240.2,223.12 240.8,224.68 241.4,224.63 242,221.6 242.6,224.04 243.2,224.52 243.8,221.92 244.4,220.12 245,223.81 245.6,224.22 246.2,222.76 246.8,223.17 247.4,219.78 248,221.82 248.6,223.67 249.2,220.76 249.8,222.51 250.4,221.93 251,221.72 251.6,221.68 252.2,222.79 252.8,223.65 253.4,220.06 254,221.86 254.6,222.03 255.2,223.84 255.8,223.66 256.4,223.4 257,219.45 257.6,223.95 258.2,222.49 258.8,221.98 259.4,221.88 260,223.19 260.6,223.67 261.2,222.69 261.8,221.89 262.4,224.23 263,224.4 263.6,219.77 264.2,222 264.8,219.97 265.4,222.98 266,222.16 266.6,222.94 267.2,223.61 267.8,221.47 268.4,223.73 269,222.73 269.6,224.08 270.2,224.53 270.8,222.66 271.4,224.45 272,223.4 272.6,225.3 273.2,224.55 273.8,224.12 274.4,223.42 275,225.66 275.6,223.44 276.2,223.78 276.8,224.51 277.4,221.21 278,223.5 278.6,226.2 279.2,224.23 279.8,223.62 280.4,224 281,223.94 281.6,223.88 282.2,225.27 282.8,226.79 283.4,226.35 284,225.6 284.6,225.5 285.2,227.08 285.2,237.54 284.6,237.15 284,236.64 283.4,236.71 282.8,236.57 282.2,238.17 281.6,238.19 281,238.05 280.4,235.83 279.8,235.37 279.2,235.52 278.6,236.86 278,236.76 277.4,237.67 276.8,237.66 276.2,235.42 275.6,235.62 275,234.66 274.4,235.54 273.8,235.38 273.2,235.29 272.6,236.67 272,235.35 271.4,234.25 270.8,236.02 270.2,235.1 269.6,234.55 269,236.32 268.4,235.9 267.8,234.46 267.2,234.87 266.6,235.33 266,235.55 265.4,236.08 264.8,233.8 264.2,233.63 263.6,234.43 263,235.63 262.4,235.22 261.8,233.65 261.2,235.6 260.6,235.22 260,232.85 259.4,233.41 258.8,234.82 258.2,234.44 257.6,234.07 257,234.04 256.4,233.09 255.8,232.91 255.2,234.54 254.6,234.14 254,233.89 253.4,233.17 252.8,233.17 252.2,233.58 251.6,233.54 251,235.01 250.4,233.41 249.8,232.9 249.2,234.99 248.6,233.87 248,234.1 247.4,233.72 246.8,234.66 246.2,232.51 245.6,232.89 245,233.77 244.4,233.48 243.8,233.48 243.2,232.68 242.6,235.33 242,233.73 241.4,233.16 240.8,234.06 240.2,235.05 239.6,233.88 239,234.19 238.4,234.57 237.8,232.98 237.2,235.14 236.6,233.77 236,233.26 235.4,233.62 234.8,234.22 234.2,234.64 233.6,233.92 233,235.89 232.4,235.86 231.8,235.37 231.2,234.5 230.6,235.84 230,235.19 229.4,236.16 228.8,235.2 228.2,233.92 227.6,233.78 227,235.04 226.4,235.17 225.8,236.23 225.2,235.49 224.6,234.17 224,235.38 223.4,234.73 222.8,234.22 222.2,235.6 221.6,236.73 221,234.34 220.4,236.24 219.8,235.61 219.2,235.67 218.6,236.51 218,237.07 217.4,235.12 216.8,236.9 216.2,235.24 215.6,235.01 215,235.45 214.4,236.01 213.8,234.43 213.2,236.08 212.6,236.16 212,236.54 211.4,236.62 210.8,234.92 210.2,237.18 209.6,236.57 209,236.31 208.4,236.37 207.8,236.5 207.2,235.02 206.6,237.42 206,236.57 205.4,235.49 204.8,236.19 204.2,236.51 203.6,236.65 203,237.81 202.4,235.51 201.8,238.07 201.2,237.8 200.6,238.5 200,235.99 199.4,237.1 198.8,237.51 198.2,237.79 197.6,236.81 197,237.28 196.4,236.58 195.8,239.1 195.2,238.54 194.6,237.14 194,238.91 193.4,238.67 192.8,238.59 192.2,238.49 191.6,239.05 191,237.86 190.4,239.73 189.8,238.42 189.2,240.72 188.6,239.08 188,238.91 187.4,240.87 186.8,239.39 186.2,239.72 185.6,240.79 185,241.59 184.4,240.68 183.8,240.83 183.2,240.32 182.6,241.04 182,241.22 181.4,239.93 180.8,240.68 180.2,241.71 179.6,241.01 179,240.26 178.4,240.91 177.8,241.19 177.2,241.64 176.6,241.82 176,241.38 175.4,241.16 174.8,241.76 174.2,240.95 173.6,241.52 173,241.15 172.4,241.06 171.8,241.61 171.2,241.57 170.6,241.31 170,241 169.4,241.33 168.8,242.19 168.2,241.84 167.6,241.44 167,241.52 166.4,242.17 165.8,242.02 165.2,242.06 164.6,241.52 164,241.97 163.4,242.35 162.8,242.96 162.2,242.8 161.6,242.74 161,243.07 160.4,242.96 159.8,243.3 159.2,243.61 158.6,243.08 158,243.94 157.4,244.01 156.8,243.22 156.2,243.74 155.6,243.93 155,243.28 154.4,243.68 153.8,244.02 153.2,244.13 152.6,243.81 152,244.45 151.4,244.09 150.8,243.55 150.2,243.03 149.6,243.28 149,244.16 148.4,243.24 147.8,243.95 147.2,243.29 146.6,244.2 146,242.93 145.4,244.15 144.8,243.8 144.2,244.01 143.6,243.42 143,242.91 142.4,243.18 141.8,243.82 141.2,242.87 140.6,242.62 140,242.7 139.4,243.22 138.8,243.17 138.2,243.38 137.6,242.96 137,243.27 136.4,242.02 135.8,242.31 135.2,242.31 134.6,242.31 134,243.38 133.4,243.03 132.8,242.96 132.2,242.91 131.6,243.37 131,243.35 130.4,243.61 129.8,243.79 129.2,245.18 128.6,245.47 128,244.9 127.4,245.72 126.8,246 126.2,246.43 125.6,245.94 125,246.83 124.4,246.6 123.8,246.78 123.2,247.36 122.6,247.77 122,248.5 121.4,248.22 120.8,248.38 120.2,248.49 119.6,249.1 119,249.28 118.4,248.79 117.8,248.58 117.2,249.18 116.6,249.44 116,249.82 115.4,249.1 114.8,249.54 114.2,249.53 113.6,250.24 113,249.33 112.4,250.23 111.8,249.98 111.2,250.59 110.6,250.69 110,250.39 109.4,249.99 108.8,250.64 108.2,250.4 107.6,250.15 107,250.99 106.4,250.71 105.8,250.66 105.2,250.81 104.6,251.17 104,250.41 103.4,250.79 102.8,251.16 102.2,249.89 101.6,250.25 101,250.17 100.4,250.55 99.8,249.8 99.2,250.55 98.6,249.83 98,251.03 97.4,249.85 96.8,250.2 96.2,250.89 95.6,251.18 95,250.74 94.4,250.32 93.8,251.28 93.2,250.23 92.6,251.08 92,250.27 91.4,251.64 90.8,251.19 90.2,250.41 89.6,251.16 89,250.89 88.4,251.55 87.8,251.62 87.2,250.26 86.6,250.89 86,251.38 85.4,251.46 84.8,250.68 84.2,250.66 83.6,251.37 83,250.35 82.4,251.3 81.8,250.72 81.2,251.23 80.6,250.37 80,251.21 79.4,250.85 78.8,249.95 78.2,251.17 77.6,251.07 77,250.69 76.4,251.27 75.8,250.87 75.2,251.31 74.6,250.64 74,250.86 73.4,251.66 72.8,250.44 72.2,251.29 71.6,251.42 71,251.32 70.4,250.95 69.8,251.61 69.2,252.11 68.6,251.17 68,251.08 67.4,251.3 66.8,251.88 66.2,252.04 65.6,252.56 65,251.47 64.4,252.56 63.8,252.4 63.2,251.59 62.6,252.53 62,251.6 61.4,252.77 60.8,251.84 60.2,252.27 59.6,252.46 59,252.56 58.4,251.86 57.8,252.52 57.2,252.38 56.6,252.79 56,252.26 55.4,253.01 54.8,253.32 54.2,253.41 53.6,252.82 53,253.47 52.4,252.49 51.8,252.67 51.2,252.76 50.6,252.8 50,253.52 49.4,252.7 48.8,253.35 48.2,253.05 47.6,253.65 47,253.56 46.4,253.62 45.8,253.01 45.2,253.47 44.6,252.89 44,252.98 43.4,253.51 42.8,254.06 42.2,253.38 41.6,253.64 41,253.16 40.4,254.01 39.8,253.89 39.2,254.02 38.6,253.35 38,253.16 37.4,253.98 36.8,253.14 36.2,254.17 35.6,254.36 35,253.25 34.4,253.59 33.8,253.33 33.2,254.08 32.6,254.28 32,253.67 31.4,253.73 30.8,254.35 30.2,254.05 29.6,253.84 29,253.2 28.4,253.9 27.8,253.75 27.2,253.64 26.6,254.3 26,253.85 25.4,253.68 24.8,254.13 24.2,254.31 23.6,254.1 23,253.05 22.4,252.95 21.8,252.67 21.2,253.16 20.6,253.24 20,253.47 19.4,253.4 18.8,253.03 18.2,252.81 17.6,252.25 17,251.75 16.4,252 15.8,252.6 15.2,252.01 14.6,251.69 14,251.92 13.4,252.45 12.8,252.2 12.2,252.5 11.6,251.43 11,252.42 10.4,252.12 9.8,251.45 9.2,251.88 8.6,251.82 8,252.14 7.4,252.29 6.8,251.77 6.2,252.22 5.6,251.74 5,252.52 4.4,251.67 3.8,251.85" fill="#2c3134"/>
<line x1="40.2" y1="244.6" x2="40.2" y2="250.76" stroke="#2c3134" stroke-width="0.9" />
<line x1="73.5" y1="242.6" x2="73.5" y2="248.44" stroke="#2c3134" stroke-width="0.9" />
<line x1="77.3" y1="244" x2="77.3" y2="248.02" stroke="#2c3134" stroke-width="0.9" />
<line x1="234.3" y1="219.5" x2="234.3" y2="226.41" stroke="#2c3134" stroke-width="0.9" />
<line x1="246" y1="219.8" x2="246" y2="225.02" stroke="#2c3134" stroke-width="0.9" />
<line x1="262" y1="220.2" x2="262" y2="225.2" stroke="#2c3134" stroke-width="0.9" />
<line x1="283.6" y1="219.6" x2="283.6" y2="227.68" stroke="#2c3134" stroke-width="0.9" />
<line x1="49.9" y1="235.4" x2="96.6" y2="235.4" stroke="#6aaaf0" stroke-width="1.5" />
<text x="73.2" y="232.3" font-size="9.8" text-anchor="middle" font-weight="bold" fill="#56606f" >10</text>
<line x1="96.3" y1="228.3" x2="143" y2="228.3" stroke="#6aaaf0" stroke-width="1.5" />
<text x="119.9" y="225.6" font-size="9.8" text-anchor="middle" font-weight="bold" fill="#56606f" >30</text>
<line x1="142.2" y1="222.3" x2="189.4" y2="222.3" stroke="#6aaaf0" stroke-width="1.5" />
<text x="166" y="219.2" font-size="9.8" text-anchor="middle" font-weight="bold" fill="#56606f" >100</text>
<line x1="190" y1="216.3" x2="236.9" y2="216.3" stroke="#6aaaf0" stroke-width="1.5" />
<text x="212.8" y="213.1" font-size="9.8" text-anchor="middle" font-weight="bold" fill="#56606f" >300</text>
<line x1="238" y1="210.2" x2="285" y2="210.2" stroke="#6aaaf0" stroke-width="1.5" />
<text x="262.7" y="207.5" font-size="9.8" text-anchor="middle" font-weight="bold" fill="#56606f" >1,000</text>
<line x1="234.3" y1="193.8" x2="234.3" y2="224" stroke="#b8b8b8" stroke-width="0.8" />
<line x1="276.2" y1="258" x2="276.2" y2="270.2" stroke="#6b7788" stroke-width="1.1" />
<line x1="262.3" y1="269.7" x2="276.7" y2="269.7" stroke="#6b7788" stroke-width="1.1" />
<text x="278" y="267" font-size="5.2" text-anchor="start" font-weight="normal" fill="#555" >10 mV</text>
<text x="269.8" y="277.2" font-size="5.3" text-anchor="middle" font-weight="normal" fill="#555" >2 min</text>
</svg>
</body></html>
